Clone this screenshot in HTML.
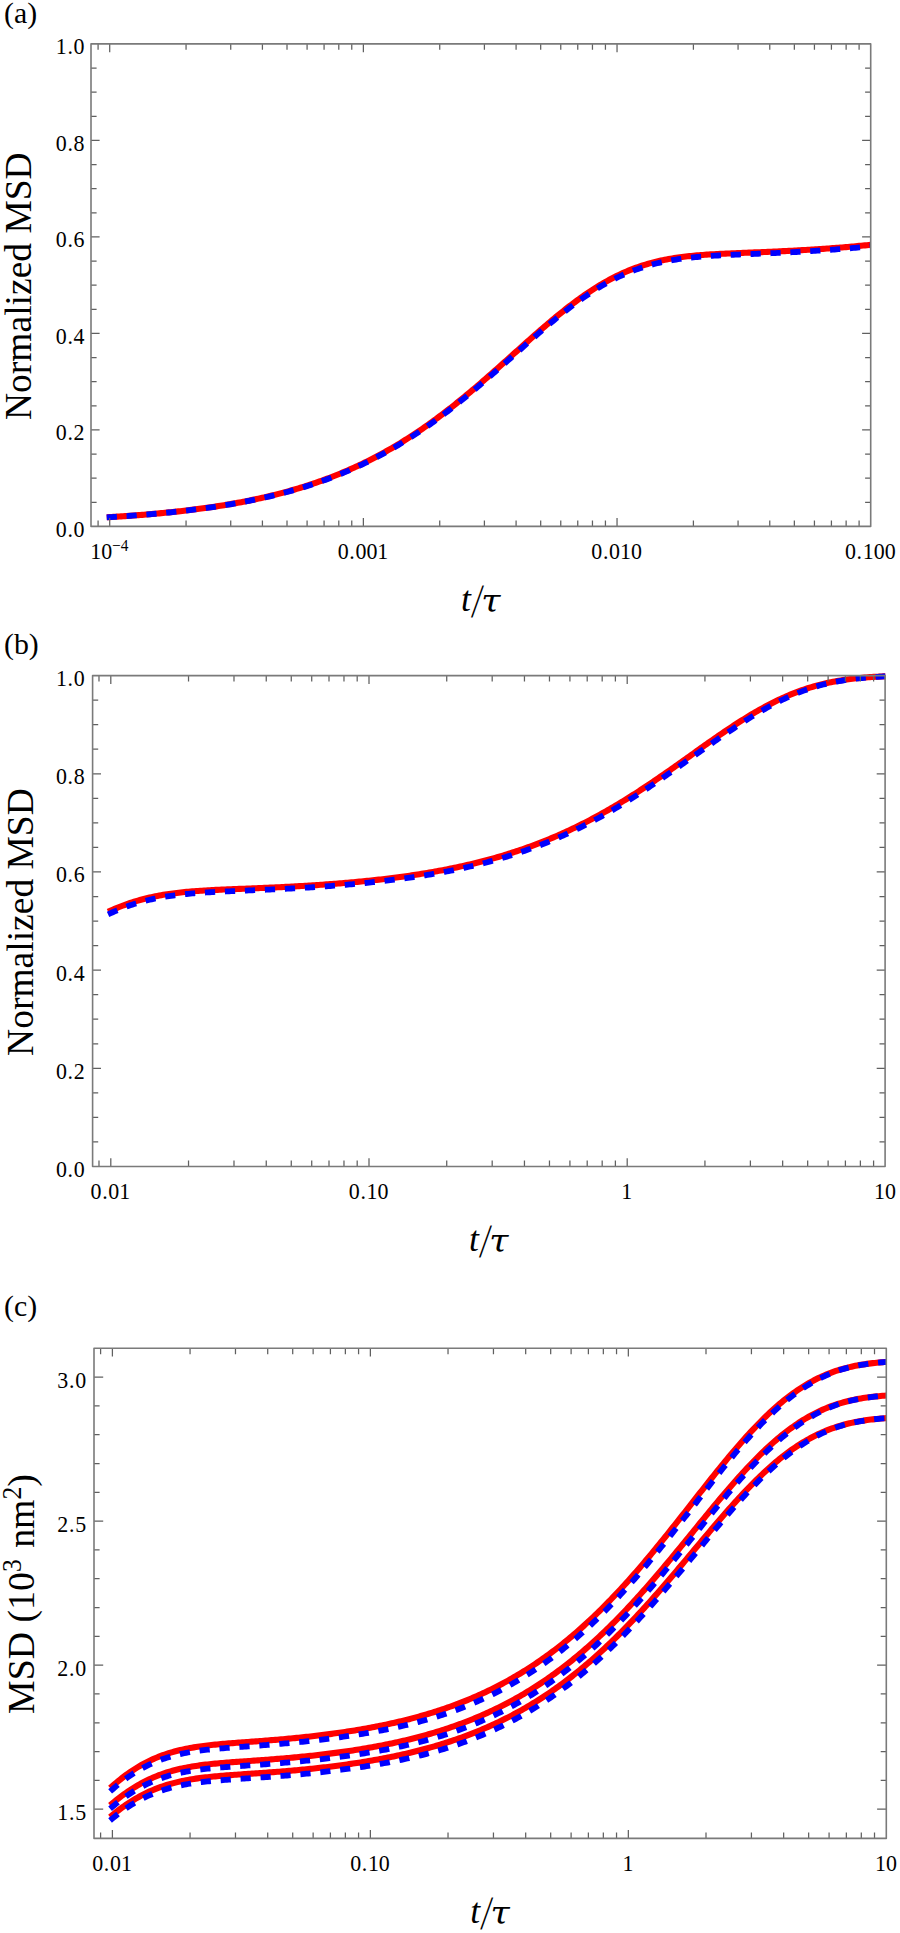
<!DOCTYPE html>
<html><head><meta charset="utf-8"><title>MSD figure</title>
<style>html,body{margin:0;padding:0;background:#fff}svg{display:block}text{font-family:"Liberation Serif",serif}</style>
</head><body>
<svg width="900" height="1933" viewBox="0 0 900 1933">
<rect width="900" height="1933" fill="#fff"/>
<clipPath id="ca"><rect x="86" y="35.9" width="785.4" height="498.5"/></clipPath>
<g fill="none" clip-path="url(#ca)">
<path d="M106.71,517.31 L109.7,517.12 L111.61,517.01 L113.51,516.89 L115.42,516.76 L117.33,516.64 L119.24,516.52 L121.14,516.39 L123.05,516.26 L124.96,516.13 L126.87,515.99 L128.77,515.86 L130.68,515.72 L132.59,515.58 L134.49,515.43 L136.4,515.29 L138.31,515.14 L140.22,514.99 L142.12,514.84 L144.03,514.68 L145.94,514.52 L147.85,514.36 L149.75,514.2 L151.66,514.03 L153.57,513.86 L155.48,513.69 L157.38,513.52 L159.29,513.34 L161.2,513.16 L163.1,512.97 L165.01,512.79 L166.92,512.59 L168.83,512.4 L170.73,512.2 L172.64,512.01 L174.55,511.8 L176.46,511.6 L178.36,511.39 L180.27,511.17 L182.18,510.95 L184.08,510.73 L185.99,510.51 L187.9,510.28 L189.81,510.05 L191.71,509.81 L193.62,509.57 L195.53,509.33 L197.44,509.08 L199.34,508.83 L201.25,508.58 L203.16,508.32 L205.06,508.05 L206.97,507.78 L208.88,507.51 L210.79,507.23 L212.69,506.95 L214.6,506.66 L216.51,506.37 L218.42,506.08 L220.32,505.78 L222.23,505.47 L224.14,505.16 L226.04,504.85 L227.95,504.52 L229.86,504.2 L231.77,503.87 L233.67,503.53 L235.58,503.19 L237.49,502.84 L239.4,502.49 L241.3,502.13 L243.21,501.77 L245.12,501.4 L247.03,501.02 L248.93,500.64 L250.84,500.25 L252.75,499.86 L254.65,499.46 L256.56,499.05 L258.47,498.64 L260.38,498.22 L262.28,497.79 L264.19,497.36 L266.1,496.92 L268.01,496.47 L269.91,496.02 L271.82,495.56 L273.73,495.09 L275.63,494.61 L277.54,494.13 L279.45,493.64 L281.36,493.15 L283.26,492.64 L285.17,492.13 L287.08,491.61 L288.99,491.08 L290.89,490.54 L292.8,490 L294.71,489.45 L296.61,488.89 L298.52,488.32 L300.43,487.74 L302.34,487.15 L304.24,486.56 L306.15,485.95 L308.06,485.34 L309.97,484.72 L311.87,484.09 L313.78,483.45 L315.69,482.8 L317.59,482.14 L319.5,481.47 L321.41,480.79 L323.32,480.1 L325.22,479.41 L327.13,478.7 L329.04,477.98 L330.95,477.25 L332.85,476.51 L334.76,475.77 L336.67,475.01 L338.58,474.24 L340.48,473.46 L342.39,472.66 L344.3,471.86 L346.2,471.05 L348.11,470.23 L350.02,469.39 L351.93,468.54 L353.83,467.69 L355.74,466.82 L357.65,465.94 L359.56,465.04 L361.46,464.14 L363.37,463.22 L365.28,462.3 L367.18,461.36 L369.09,460.4 L371,459.44 L372.91,458.46 L374.81,457.48 L376.72,456.48 L378.63,455.46 L380.54,454.44 L382.44,453.4 L384.35,452.35 L386.26,451.29 L388.16,450.21 L390.07,449.12 L391.98,448.02 L393.89,446.91 L395.79,445.78 L397.7,444.64 L399.61,443.49 L401.52,442.32 L403.42,441.14 L405.33,439.95 L407.24,438.75 L409.15,437.53 L411.05,436.3 L412.96,435.06 L414.87,433.8 L416.77,432.53 L418.68,431.25 L420.59,429.95 L422.5,428.65 L424.4,427.33 L426.31,425.99 L428.22,424.65 L430.13,423.29 L432.03,421.92 L433.94,420.53 L435.85,419.14 L437.75,417.73 L439.66,416.31 L441.57,414.88 L443.48,413.43 L445.38,411.98 L447.29,410.51 L449.2,409.03 L451.11,407.54 L453.01,406.04 L454.92,404.52 L456.83,403 L458.73,401.46 L460.64,399.92 L462.55,398.36 L464.46,396.8 L466.36,395.22 L468.27,393.64 L470.18,392.05 L472.09,390.44 L473.99,388.83 L475.9,387.21 L477.81,385.59 L479.71,383.95 L481.62,382.31 L483.53,380.66 L485.44,379 L487.34,377.34 L489.25,375.67 L491.16,373.99 L493.07,372.31 L494.97,370.62 L496.88,368.93 L498.79,367.24 L500.7,365.54 L502.6,363.84 L504.51,362.14 L506.42,360.43 L508.32,358.72 L510.23,357.01 L512.14,355.3 L514.05,353.59 L515.95,351.88 L517.86,350.17 L519.77,348.46 L521.68,346.75 L523.58,345.05 L525.49,343.35 L527.4,341.65 L529.3,339.95 L531.21,338.26 L533.12,336.58 L535.03,334.9 L536.93,333.22 L538.84,331.56 L540.75,329.9 L542.66,328.24 L544.56,326.6 L546.47,324.97 L548.38,323.34 L550.28,321.73 L552.19,320.13 L554.1,318.53 L556.01,316.95 L557.91,315.39 L559.82,313.83 L561.73,312.29 L563.64,310.77 L565.54,309.26 L567.45,307.76 L569.36,306.28 L571.26,304.82 L573.17,303.38 L575.08,301.95 L576.99,300.54 L578.89,299.15 L580.8,297.78 L582.71,296.42 L584.62,295.09 L586.52,293.78 L588.43,292.49 L590.34,291.22 L592.25,289.97 L594.15,288.74 L596.06,287.54 L597.97,286.36 L599.87,285.2 L601.78,284.06 L603.69,282.95 L605.6,281.86 L607.5,280.8 L609.41,279.76 L611.32,278.74 L613.23,277.75 L615.13,276.78 L617.04,275.84 L618.95,274.92 L620.85,274.02 L622.76,273.15 L624.67,272.3 L626.58,271.48 L628.48,270.68 L630.39,269.91 L632.3,269.16 L634.21,268.43 L636.11,267.73 L638.02,267.05 L639.93,266.39 L641.83,265.76 L643.74,265.15 L645.65,264.56 L647.56,263.99 L649.46,263.44 L651.37,262.92 L653.28,262.42 L655.19,261.93 L657.09,261.47 L659,261.02 L660.91,260.59 L662.82,260.19 L664.72,259.8 L666.63,259.42 L668.54,259.07 L670.44,258.73 L672.35,258.4 L674.26,258.1 L676.17,257.8 L678.07,257.52 L679.98,257.26 L681.89,257 L683.8,256.76 L685.7,256.53 L687.61,256.32 L689.52,256.11 L691.42,255.91 L693.33,255.73 L695.24,255.55 L697.15,255.38 L699.05,255.22 L700.96,255.07 L702.87,254.93 L704.78,254.79 L706.68,254.66 L708.59,254.53 L710.5,254.41 L712.4,254.3 L714.31,254.19 L716.22,254.08 L718.13,253.98 L720.03,253.88 L721.94,253.79 L723.85,253.7 L725.76,253.61 L727.66,253.52 L729.57,253.44 L731.48,253.35 L733.38,253.27 L735.29,253.19 L737.2,253.11 L739.11,253.04 L741.01,252.96 L742.92,252.88 L744.83,252.8 L746.74,252.73 L748.64,252.65 L750.55,252.58 L752.46,252.5 L754.37,252.42 L756.27,252.35 L758.18,252.27 L760.09,252.19 L761.99,252.11 L763.9,252.03 L765.81,251.95 L767.72,251.87 L769.62,251.78 L771.53,251.7 L773.44,251.61 L775.35,251.53 L777.25,251.44 L779.16,251.35 L781.07,251.26 L782.97,251.17 L784.88,251.08 L786.79,250.98 L788.7,250.88 L790.6,250.79 L792.51,250.69 L794.42,250.58 L796.33,250.48 L798.23,250.38 L800.14,250.27 L802.05,250.16 L803.95,250.05 L805.86,249.94 L807.77,249.83 L809.68,249.71 L811.58,249.59 L813.49,249.47 L815.4,249.35 L817.31,249.23 L819.21,249.1 L821.12,248.97 L823.03,248.84 L824.93,248.71 L826.84,248.58 L828.75,248.44 L830.66,248.3 L832.56,248.16 L834.47,248.02 L836.38,247.87 L838.29,247.72 L840.19,247.57 L842.1,247.42 L844.01,247.26 L845.92,247.1 L847.82,246.94 L849.73,246.78 L851.64,246.61 L853.54,246.44 L855.45,246.27 L857.36,246.09 L859.27,245.91 L861.17,245.73 L863.08,245.55 L864.99,245.36 L866.9,245.17 L868.8,244.98 L870.71,244.78" stroke="#ff0000" stroke-width="6.1"/>
<path d="M106.71,517.31 L109.7,517.14 L111.61,517.02 L113.51,516.9 L115.42,516.79 L117.33,516.66 L119.24,516.54 L121.14,516.42 L123.05,516.29 L124.96,516.16 L126.87,516.03 L128.77,515.9 L130.68,515.76 L132.59,515.62 L134.49,515.48 L136.4,515.34 L138.31,515.19 L140.22,515.04 L142.12,514.89 L144.03,514.74 L145.94,514.58 L147.85,514.43 L149.75,514.26 L151.66,514.1 L153.57,513.93 L155.48,513.76 L157.38,513.59 L159.29,513.42 L161.2,513.24 L163.1,513.06 L165.01,512.87 L166.92,512.68 L168.83,512.49 L170.73,512.3 L172.64,512.1 L174.55,511.9 L176.46,511.7 L178.36,511.49 L180.27,511.28 L182.18,511.06 L184.08,510.85 L185.99,510.62 L187.9,510.4 L189.81,510.17 L191.71,509.94 L193.62,509.7 L195.53,509.46 L197.44,509.21 L199.34,508.96 L201.25,508.71 L203.16,508.45 L205.06,508.19 L206.97,507.93 L208.88,507.66 L210.79,507.38 L212.69,507.1 L214.6,506.82 L216.51,506.53 L218.42,506.24 L220.32,505.94 L222.23,505.63 L224.14,505.33 L226.04,505.01 L227.95,504.7 L229.86,504.37 L231.77,504.04 L233.67,503.71 L235.58,503.37 L237.49,503.03 L239.4,502.67 L241.3,502.32 L243.21,501.96 L245.12,501.59 L247.03,501.22 L248.93,500.84 L250.84,500.45 L252.75,500.07 L254.65,499.67 L256.56,499.27 L258.47,498.87 L260.38,498.46 L262.28,498.04 L264.19,497.61 L266.1,497.18 L268.01,496.74 L269.91,496.3 L271.82,495.84 L273.73,495.38 L275.63,494.92 L277.54,494.44 L279.45,493.96 L281.36,493.47 L283.26,492.97 L285.17,492.47 L287.08,491.96 L288.99,491.44 L290.89,490.91 L292.8,490.37 L294.71,489.83 L296.61,489.27 L298.52,488.71 L300.43,488.14 L302.34,487.56 L304.24,486.97 L306.15,486.38 L308.06,485.77 L309.97,485.16 L311.87,484.53 L313.78,483.9 L315.69,483.26 L317.59,482.61 L319.5,481.95 L321.41,481.28 L323.32,480.6 L325.22,479.91 L327.13,479.21 L329.04,478.5 L330.95,477.78 L332.85,477.05 L334.76,476.3 L336.67,475.55 L338.58,474.79 L340.48,474.02 L342.39,473.23 L344.3,472.44 L346.2,471.63 L348.11,470.82 L350.02,469.99 L351.93,469.15 L353.83,468.3 L355.74,467.44 L357.65,466.57 L359.56,465.68 L361.46,464.79 L363.37,463.88 L365.28,462.96 L367.18,462.03 L369.09,461.08 L371,460.12 L372.91,459.16 L374.81,458.18 L376.72,457.18 L378.63,456.18 L380.54,455.16 L382.44,454.13 L384.35,453.09 L386.26,452.03 L388.16,450.96 L390.07,449.88 L391.98,448.79 L393.89,447.68 L395.79,446.56 L397.7,445.43 L399.61,444.29 L401.52,443.13 L403.42,441.96 L405.33,440.78 L407.24,439.59 L409.15,438.38 L411.05,437.17 L412.96,435.93 L414.87,434.69 L416.77,433.43 L418.68,432.16 L420.59,430.88 L422.5,429.58 L424.4,428.27 L426.31,426.95 L428.22,425.62 L430.13,424.27 L432.03,422.91 L433.94,421.54 L435.85,420.15 L437.75,418.75 L439.66,417.35 L441.57,415.92 L443.48,414.49 L445.38,413.05 L447.29,411.59 L449.2,410.12 L451.11,408.64 L453.01,407.15 L454.92,405.65 L456.83,404.14 L458.73,402.62 L460.64,401.08 L462.55,399.54 L464.46,397.99 L466.36,396.42 L468.27,394.85 L470.18,393.27 L472.09,391.68 L473.99,390.08 L475.9,388.47 L477.81,386.85 L479.71,385.23 L481.62,383.6 L483.53,381.96 L485.44,380.31 L487.34,378.66 L489.25,377 L491.16,375.34 L493.07,373.67 L494.97,371.99 L496.88,370.32 L498.79,368.63 L500.7,366.95 L502.6,365.25 L504.51,363.56 L506.42,361.86 L508.32,360.16 L510.23,358.46 L512.14,356.76 L514.05,355.06 L515.95,353.36 L517.86,351.66 L519.77,349.96 L521.68,348.26 L523.58,346.57 L525.49,344.87 L527.4,343.18 L529.3,341.5 L531.21,339.82 L533.12,338.14 L535.03,336.47 L536.93,334.81 L538.84,333.15 L540.75,331.5 L542.66,329.86 L544.56,328.22 L546.47,326.6 L548.38,324.98 L550.28,323.38 L552.19,321.79 L554.1,320.2 L556.01,318.63 L557.91,317.08 L559.82,315.53 L561.73,314 L563.64,312.48 L565.54,310.97 L567.45,309.48 L569.36,308.01 L571.26,306.55 L573.17,305.11 L575.08,303.69 L576.99,302.28 L578.89,300.9 L580.8,299.53 L582.71,298.18 L584.62,296.85 L586.52,295.55 L588.43,294.26 L590.34,293 L592.25,291.75 L594.15,290.53 L596.06,289.33 L597.97,288.15 L599.87,287 L601.78,285.87 L603.69,284.76 L605.6,283.68 L607.5,282.62 L609.41,281.58 L611.32,280.57 L613.23,279.58 L615.13,278.62 L617.04,277.68 L618.95,276.76 L620.85,275.87 L622.76,275.01 L624.67,274.17 L626.58,273.35 L628.48,272.55 L630.39,271.79 L632.3,271.04 L634.21,270.32 L636.11,269.62 L638.02,268.94 L639.93,268.29 L641.83,267.65 L643.74,267.03 L645.65,266.43 L647.56,265.85 L649.46,265.3 L651.37,264.76 L653.28,264.25 L655.19,263.75 L657.09,263.28 L659,262.83 L660.91,262.39 L662.82,261.97 L664.72,261.57 L666.63,261.19 L668.54,260.83 L670.44,260.48 L672.35,260.14 L674.26,259.82 L676.17,259.52 L678.07,259.23 L679.98,258.96 L681.89,258.69 L683.8,258.44 L685.7,258.2 L687.61,257.98 L689.52,257.76 L691.42,257.56 L693.33,257.36 L695.24,257.17 L697.15,257 L699.05,256.83 L700.96,256.67 L702.87,256.51 L704.78,256.36 L706.68,256.22 L708.59,256.09 L710.5,255.96 L712.4,255.84 L714.31,255.72 L716.22,255.6 L718.13,255.49 L720.03,255.38 L721.94,255.29 L723.85,255.2 L725.76,255.11 L727.66,255.02 L729.57,254.94 L731.48,254.85 L733.38,254.77 L735.29,254.69 L737.2,254.61 L739.11,254.54 L741.01,254.46 L742.92,254.38 L744.83,254.3 L746.74,254.23 L748.64,254.15 L750.55,254.08 L752.46,254 L754.37,253.92 L756.27,253.85 L758.18,253.77 L760.09,253.69 L761.99,253.61 L763.9,253.53 L765.81,253.45 L767.72,253.37 L769.62,253.28 L771.53,253.2 L773.44,253.11 L775.35,253.03 L777.25,252.94 L779.16,252.85 L781.07,252.76 L782.97,252.67 L784.88,252.58 L786.79,252.48 L788.7,252.38 L790.6,252.29 L792.51,252.19 L794.42,252.08 L796.33,251.98 L798.23,251.88 L800.14,251.77 L802.05,251.66 L803.95,251.55 L805.86,251.44 L807.77,251.33 L809.68,251.21 L811.58,251.09 L813.49,250.97 L815.4,250.85 L817.31,250.73 L819.21,250.6 L821.12,250.47 L823.03,250.34 L824.93,250.21 L826.84,250.08 L828.75,249.94 L830.66,249.8 L832.56,249.66 L834.47,249.52 L836.38,249.37 L838.29,249.22 L840.19,249.07 L842.1,248.92 L844.01,248.76 L845.92,248.6 L847.82,248.44 L849.73,248.28 L851.64,248.11 L853.54,247.94 L855.45,247.77 L857.36,247.59 L859.27,247.41 L861.17,247.23 L863.08,247.05 L864.99,246.86 L866.9,246.67 L868.8,246.48 L870.71,246.28" stroke="#0000ff" stroke-width="5.8" stroke-dasharray="10.2 9.7"/>
</g>
<path d="M98.09,526.4 v-5.9 M98.09,43.9 v5.9 M109.7,526.4 v-8.3 M109.7,43.9 v8.3 M186.06,526.4 v-5.9 M186.06,43.9 v5.9 M230.73,526.4 v-5.9 M230.73,43.9 v5.9 M262.42,526.4 v-5.9 M262.42,43.9 v5.9 M287.01,526.4 v-5.9 M287.01,43.9 v5.9 M307.09,526.4 v-5.9 M307.09,43.9 v5.9 M324.08,526.4 v-5.9 M324.08,43.9 v5.9 M338.79,526.4 v-5.9 M338.79,43.9 v5.9 M351.76,526.4 v-5.9 M351.76,43.9 v5.9 M363.37,526.4 v-8.3 M363.37,43.9 v8.3 M439.73,526.4 v-5.9 M439.73,43.9 v5.9 M484.4,526.4 v-5.9 M484.4,43.9 v5.9 M516.09,526.4 v-5.9 M516.09,43.9 v5.9 M540.68,526.4 v-5.9 M540.68,43.9 v5.9 M560.76,526.4 v-5.9 M560.76,43.9 v5.9 M577.75,526.4 v-5.9 M577.75,43.9 v5.9 M592.46,526.4 v-5.9 M592.46,43.9 v5.9 M605.43,526.4 v-5.9 M605.43,43.9 v5.9 M617.04,526.4 v-8.3 M617.04,43.9 v8.3 M693.4,526.4 v-5.9 M693.4,43.9 v5.9 M738.07,526.4 v-5.9 M738.07,43.9 v5.9 M769.76,526.4 v-5.9 M769.76,43.9 v5.9 M794.35,526.4 v-5.9 M794.35,43.9 v5.9 M814.43,526.4 v-5.9 M814.43,43.9 v5.9 M831.42,526.4 v-5.9 M831.42,43.9 v5.9 M846.13,526.4 v-5.9 M846.13,43.9 v5.9 M859.1,526.4 v-5.9 M859.1,43.9 v5.9 M91,429.9 h8.6 M870.7,429.9 h-8.6 M91,333.4 h8.6 M870.7,333.4 h-8.6 M91,236.9 h8.6 M870.7,236.9 h-8.6 M91,140.4 h8.6 M870.7,140.4 h-8.6 M91,502.27 h5.6 M870.7,502.27 h-5.6 M91,478.15 h5.6 M870.7,478.15 h-5.6 M91,454.02 h5.6 M870.7,454.02 h-5.6 M91,405.77 h5.6 M870.7,405.77 h-5.6 M91,381.65 h5.6 M870.7,381.65 h-5.6 M91,357.52 h5.6 M870.7,357.52 h-5.6 M91,309.27 h5.6 M870.7,309.27 h-5.6 M91,285.15 h5.6 M870.7,285.15 h-5.6 M91,261.02 h5.6 M870.7,261.02 h-5.6 M91,212.77 h5.6 M870.7,212.77 h-5.6 M91,188.65 h5.6 M870.7,188.65 h-5.6 M91,164.52 h5.6 M870.7,164.52 h-5.6 M91,116.27 h5.6 M870.7,116.27 h-5.6 M91,92.15 h5.6 M870.7,92.15 h-5.6 M91,68.02 h5.6 M870.7,68.02 h-5.6" stroke="#606060" stroke-width="1.25" fill="none"/>
<rect x="91" y="43.9" width="779.7" height="482.5" fill="none" stroke="#7a7a7a" stroke-width="1.6" stroke-linejoin="round"/>
<g font-size="23.6" fill="#000">
<text transform="translate(84.5,536.9) scale(0.93,1)" text-anchor="end">0<tspan dx="0.7">.</tspan><tspan dx="0.7">0</tspan></text>
<text transform="translate(84.5,440.4) scale(0.93,1)" text-anchor="end">0<tspan dx="0.7">.</tspan><tspan dx="0.7">2</tspan></text>
<text transform="translate(84.5,343.9) scale(0.93,1)" text-anchor="end">0<tspan dx="0.7">.</tspan><tspan dx="0.7">4</tspan></text>
<text transform="translate(84.5,247.4) scale(0.93,1)" text-anchor="end">0<tspan dx="0.7">.</tspan><tspan dx="0.7">6</tspan></text>
<text transform="translate(84.5,150.9) scale(0.93,1)" text-anchor="end">0<tspan dx="0.7">.</tspan><tspan dx="0.7">8</tspan></text>
<text transform="translate(84.5,54.4) scale(0.93,1)" text-anchor="end">1<tspan dx="0.7">.</tspan><tspan dx="0.7">0</tspan></text>
<text transform="translate(109.3,558.7) scale(0.93,1)" text-anchor="middle">10<tspan font-size="16.5" dy="-8">−4</tspan></text>
<text transform="translate(362.97,558.7) scale(0.93,1)" text-anchor="middle">0<tspan dx="0.7">.</tspan><tspan dx="0.7">001</tspan></text>
<text transform="translate(616.64,558.7) scale(0.93,1)" text-anchor="middle">0<tspan dx="0.7">.</tspan><tspan dx="0.7">010</tspan></text>
<text transform="translate(870.31,558.7) scale(0.93,1)" text-anchor="middle">0<tspan dx="0.7">.</tspan><tspan dx="0.7">100</tspan></text>
</g>
<text x="461" y="611.4" font-size="35.5" font-style="italic" fill="#000">t</text>
<text transform="translate(471,617.3) skewX(-7) scale(0.68,1)" font-size="48" fill="#000">/</text>
<text transform="translate(481.3,612.1) scale(1.07,1)" font-size="32.5" font-style="italic" style="font-family:'DejaVu Serif','Liberation Serif',serif" fill="#000">τ</text>
<text transform="translate(31.1,286.15) rotate(-90) scale(1.0,1)" font-size="37.5" text-anchor="middle" fill="#000">Normalized MSD</text>
<text x="4" y="22.6" font-size="29.8" fill="#000">(a)</text>
<clipPath id="cb"><rect x="87.6" y="667.6" width="798.2" height="506.9"/></clipPath>
<g fill="none" clip-path="url(#cb)">
<path d="M108.06,911.81 L110.8,910.59 L112.74,909.73 L114.68,908.89 L116.62,908.07 L118.57,907.28 L120.51,906.51 L122.45,905.76 L124.39,905.04 L126.33,904.33 L128.27,903.65 L130.21,902.99 L132.15,902.36 L134.1,901.74 L136.04,901.15 L137.98,900.57 L139.92,900.02 L141.86,899.49 L143.8,898.97 L145.74,898.48 L147.69,898.01 L149.63,897.55 L151.57,897.12 L153.51,896.7 L155.45,896.3 L157.39,895.91 L159.33,895.55 L161.28,895.19 L163.22,894.86 L165.16,894.54 L167.1,894.23 L169.04,893.94 L170.98,893.66 L172.92,893.4 L174.86,893.15 L176.81,892.91 L178.75,892.68 L180.69,892.46 L182.63,892.26 L184.57,892.06 L186.51,891.87 L188.45,891.7 L190.4,891.53 L192.34,891.37 L194.28,891.21 L196.22,891.07 L198.16,890.93 L200.1,890.8 L202.04,890.67 L203.98,890.55 L205.93,890.43 L207.87,890.32 L209.81,890.22 L211.75,890.11 L213.69,890.01 L215.63,889.92 L217.57,889.83 L219.52,889.73 L221.46,889.65 L223.4,889.56 L225.34,889.48 L227.28,889.4 L229.22,889.31 L231.16,889.24 L233.11,889.16 L235.05,889.08 L236.99,889 L238.93,888.92 L240.87,888.85 L242.81,888.77 L244.75,888.69 L246.69,888.62 L248.64,888.54 L250.58,888.46 L252.52,888.38 L254.46,888.31 L256.4,888.23 L258.34,888.15 L260.28,888.06 L262.23,887.98 L264.17,887.9 L266.11,887.81 L268.05,887.73 L269.99,887.64 L271.93,887.55 L273.87,887.46 L275.82,887.37 L277.76,887.28 L279.7,887.19 L281.64,887.09 L283.58,887 L285.52,886.9 L287.46,886.8 L289.4,886.7 L291.35,886.59 L293.29,886.49 L295.23,886.38 L297.17,886.27 L299.11,886.16 L301.05,886.05 L302.99,885.94 L304.94,885.82 L306.88,885.71 L308.82,885.59 L310.76,885.46 L312.7,885.34 L314.64,885.21 L316.58,885.09 L318.52,884.96 L320.47,884.82 L322.41,884.69 L324.35,884.55 L326.29,884.41 L328.23,884.27 L330.17,884.13 L332.11,883.98 L334.06,883.83 L336,883.68 L337.94,883.53 L339.88,883.37 L341.82,883.21 L343.76,883.05 L345.7,882.89 L347.65,882.72 L349.59,882.55 L351.53,882.38 L353.47,882.2 L355.41,882.02 L357.35,881.84 L359.29,881.66 L361.23,881.47 L363.18,881.28 L365.12,881.09 L367.06,880.89 L369,880.69 L370.94,880.49 L372.88,880.28 L374.82,880.07 L376.77,879.86 L378.71,879.64 L380.65,879.42 L382.59,879.19 L384.53,878.97 L386.47,878.73 L388.41,878.5 L390.35,878.26 L392.3,878.02 L394.24,877.77 L396.18,877.52 L398.12,877.26 L400.06,877.01 L402,876.74 L403.94,876.47 L405.89,876.2 L407.83,875.93 L409.77,875.65 L411.71,875.36 L413.65,875.07 L415.59,874.78 L417.53,874.48 L419.48,874.17 L421.42,873.86 L423.36,873.55 L425.3,873.23 L427.24,872.91 L429.18,872.58 L431.12,872.25 L433.06,871.91 L435.01,871.56 L436.95,871.21 L438.89,870.86 L440.83,870.5 L442.77,870.13 L444.71,869.76 L446.65,869.38 L448.6,869 L450.54,868.61 L452.48,868.21 L454.42,867.81 L456.36,867.4 L458.3,866.99 L460.24,866.57 L462.18,866.14 L464.13,865.71 L466.07,865.27 L468.01,864.82 L469.95,864.37 L471.89,863.91 L473.83,863.44 L475.77,862.96 L477.72,862.48 L479.66,862 L481.6,861.5 L483.54,861 L485.48,860.49 L487.42,859.97 L489.36,859.44 L491.31,858.91 L493.25,858.37 L495.19,857.82 L497.13,857.27 L499.07,856.7 L501.01,856.13 L502.95,855.55 L504.89,854.96 L506.84,854.37 L508.78,853.76 L510.72,853.15 L512.66,852.52 L514.6,851.89 L516.54,851.25 L518.48,850.61 L520.43,849.95 L522.37,849.28 L524.31,848.61 L526.25,847.92 L528.19,847.23 L530.13,846.53 L532.07,845.82 L534.02,845.09 L535.96,844.36 L537.9,843.62 L539.84,842.87 L541.78,842.11 L543.72,841.34 L545.66,840.57 L547.6,839.78 L549.55,838.98 L551.49,838.17 L553.43,837.35 L555.37,836.52 L557.31,835.68 L559.25,834.83 L561.19,833.97 L563.14,833.1 L565.08,832.22 L567.02,831.33 L568.96,830.43 L570.9,829.52 L572.84,828.6 L574.78,827.67 L576.72,826.73 L578.67,825.77 L580.61,824.81 L582.55,823.84 L584.49,822.85 L586.43,821.86 L588.37,820.85 L590.31,819.84 L592.26,818.81 L594.2,817.78 L596.14,816.73 L598.08,815.67 L600.02,814.6 L601.96,813.53 L603.9,812.44 L605.85,811.34 L607.79,810.23 L609.73,809.11 L611.67,807.98 L613.61,806.85 L615.55,805.7 L617.49,804.54 L619.43,803.37 L621.38,802.2 L623.32,801.01 L625.26,799.81 L627.2,798.61 L629.14,797.39 L631.08,796.17 L633.02,794.94 L634.97,793.7 L636.91,792.45 L638.85,791.19 L640.79,789.93 L642.73,788.65 L644.67,787.37 L646.61,786.09 L648.55,784.79 L650.5,783.49 L652.44,782.18 L654.38,780.86 L656.32,779.54 L658.26,778.21 L660.2,776.88 L662.14,775.54 L664.09,774.19 L666.03,772.84 L667.97,771.49 L669.91,770.13 L671.85,768.77 L673.79,767.4 L675.73,766.03 L677.68,764.66 L679.62,763.29 L681.56,761.91 L683.5,760.53 L685.44,759.15 L687.38,757.77 L689.32,756.39 L691.26,755 L693.21,753.62 L695.15,752.24 L697.09,750.86 L699.03,749.48 L700.97,748.1 L702.91,746.73 L704.85,745.35 L706.8,743.98 L708.74,742.62 L710.68,741.26 L712.62,739.9 L714.56,738.55 L716.5,737.2 L718.44,735.86 L720.38,734.53 L722.33,733.2 L724.27,731.88 L726.21,730.57 L728.15,729.27 L730.09,727.97 L732.03,726.69 L733.97,725.42 L735.92,724.15 L737.86,722.9 L739.8,721.66 L741.74,720.43 L743.68,719.21 L745.62,718 L747.56,716.81 L749.51,715.63 L751.45,714.47 L753.39,713.32 L755.33,712.18 L757.27,711.06 L759.21,709.96 L761.15,708.87 L763.09,707.8 L765.04,706.74 L766.98,705.7 L768.92,704.68 L770.86,703.68 L772.8,702.69 L774.74,701.73 L776.68,700.78 L778.63,699.85 L780.57,698.94 L782.51,698.05 L784.45,697.17 L786.39,696.32 L788.33,695.49 L790.27,694.68 L792.22,693.88 L794.16,693.11 L796.1,692.36 L798.04,691.62 L799.98,690.91 L801.92,690.22 L803.86,689.55 L805.8,688.89 L807.75,688.26 L809.69,687.65 L811.63,687.05 L813.57,686.48 L815.51,685.93 L817.45,685.39 L819.39,684.88 L821.34,684.38 L823.28,683.9 L825.22,683.44 L827.16,683 L829.1,682.57 L831.04,682.17 L832.98,681.78 L834.92,681.41 L836.87,681.05 L838.81,680.71 L840.75,680.39 L842.69,680.08 L844.63,679.79 L846.57,679.51 L848.51,679.24 L850.46,678.99 L852.4,678.75 L854.34,678.53 L856.28,678.32 L858.22,678.12 L860.16,677.93 L862.1,677.75 L864.05,677.58 L865.99,677.43 L867.93,677.28 L869.87,677.14 L871.81,677.02 L873.75,676.9 L875.69,676.79 L877.63,676.68 L879.58,676.59 L881.52,676.5 L883.46,676.42 L885.4,676.34" stroke="#ff0000" stroke-width="6.1"/>
<path d="M108.06,914.4 L110.8,913.15 L112.74,912.26 L114.68,911.39 L116.62,910.55 L118.57,909.73 L120.51,908.94 L122.45,908.16 L124.39,907.41 L126.33,906.68 L128.27,905.98 L130.21,905.29 L132.15,904.65 L134.1,904.03 L136.04,903.43 L137.98,902.85 L139.92,902.29 L141.86,901.75 L143.8,901.23 L145.74,900.73 L147.69,900.25 L149.63,899.79 L151.57,899.34 L153.51,898.92 L155.45,898.51 L157.39,898.12 L159.33,897.75 L161.28,897.39 L163.22,897.05 L165.16,896.72 L167.1,896.41 L169.04,896.11 L170.98,895.83 L172.92,895.56 L174.86,895.3 L176.81,895.05 L178.75,894.82 L180.69,894.59 L182.63,894.38 L184.57,894.18 L186.51,893.99 L188.45,893.8 L190.4,893.63 L192.34,893.46 L194.28,893.3 L196.22,893.15 L198.16,893 L200.1,892.86 L202.04,892.73 L203.98,892.6 L205.93,892.48 L207.87,892.36 L209.81,892.25 L211.75,892.14 L213.69,892.04 L215.63,891.93 L217.57,891.83 L219.52,891.74 L221.46,891.64 L223.4,891.55 L225.34,891.46 L227.28,891.37 L229.22,891.28 L231.16,891.2 L233.11,891.11 L235.05,891.03 L236.99,890.94 L238.93,890.86 L240.87,890.78 L242.81,890.69 L244.75,890.61 L246.69,890.53 L248.64,890.44 L250.58,890.36 L252.52,890.28 L254.46,890.21 L256.4,890.13 L258.34,890.05 L260.28,889.96 L262.23,889.88 L264.17,889.8 L266.11,889.71 L268.05,889.63 L269.99,889.54 L271.93,889.45 L273.87,889.36 L275.82,889.27 L277.76,889.18 L279.7,889.09 L281.64,888.99 L283.58,888.9 L285.52,888.8 L287.46,888.7 L289.4,888.6 L291.35,888.49 L293.29,888.39 L295.23,888.28 L297.17,888.17 L299.11,888.06 L301.05,887.95 L302.99,887.84 L304.94,887.72 L306.88,887.61 L308.82,887.49 L310.76,887.36 L312.7,887.24 L314.64,887.11 L316.58,886.99 L318.52,886.86 L320.47,886.72 L322.41,886.59 L324.35,886.45 L326.29,886.31 L328.23,886.17 L330.17,886.03 L332.11,885.88 L334.06,885.73 L336,885.58 L337.94,885.43 L339.88,885.27 L341.82,885.11 L343.76,884.95 L345.7,884.79 L347.65,884.62 L349.59,884.45 L351.53,884.28 L353.47,884.1 L355.41,883.92 L357.35,883.74 L359.29,883.56 L361.23,883.37 L363.18,883.18 L365.12,882.99 L367.06,882.79 L369,882.59 L370.94,882.39 L372.88,882.19 L374.82,881.99 L376.77,881.78 L378.71,881.57 L380.65,881.35 L382.59,881.13 L384.53,880.91 L386.47,880.68 L388.41,880.45 L390.35,880.22 L392.3,879.98 L394.24,879.74 L396.18,879.49 L398.12,879.25 L400.06,878.99 L402,878.73 L403.94,878.47 L405.89,878.2 L407.83,877.93 L409.77,877.66 L411.71,877.38 L413.65,877.09 L415.59,876.8 L417.53,876.51 L419.48,876.21 L421.42,875.91 L423.36,875.6 L425.3,875.29 L427.24,874.97 L429.18,874.64 L431.12,874.31 L433.06,873.98 L435.01,873.64 L436.95,873.3 L438.89,872.95 L440.83,872.59 L442.77,872.23 L444.71,871.86 L446.65,871.49 L448.6,871.11 L450.54,870.73 L452.48,870.34 L454.42,869.94 L456.36,869.54 L458.3,869.13 L460.24,868.71 L462.18,868.29 L464.13,867.86 L466.07,867.43 L468.01,866.99 L469.95,866.54 L471.89,866.08 L473.83,865.62 L475.77,865.15 L477.72,864.68 L479.66,864.19 L481.6,863.71 L483.54,863.21 L485.48,862.7 L487.42,862.19 L489.36,861.67 L491.31,861.15 L493.25,860.61 L495.19,860.07 L497.13,859.52 L499.07,858.96 L501.01,858.4 L502.95,857.82 L504.89,857.24 L506.84,856.65 L508.78,856.05 L510.72,855.44 L512.66,854.83 L514.6,854.2 L516.54,853.57 L518.48,852.93 L520.43,852.28 L522.37,851.62 L524.31,850.95 L526.25,850.27 L528.19,849.58 L530.13,848.89 L532.07,848.18 L534.02,847.47 L535.96,846.74 L537.9,846.01 L539.84,845.26 L541.78,844.51 L543.72,843.75 L545.66,842.97 L547.6,842.19 L549.55,841.4 L551.49,840.59 L553.43,839.78 L555.37,838.96 L557.31,838.13 L559.25,837.28 L561.19,836.43 L563.14,835.57 L565.08,834.69 L567.02,833.81 L568.96,832.91 L570.9,832.01 L572.84,831.09 L574.78,830.17 L576.72,829.23 L578.67,828.28 L580.61,827.33 L582.55,826.36 L584.49,825.38 L586.43,824.39 L588.37,823.39 L590.31,822.38 L592.26,821.36 L594.2,820.33 L596.14,819.28 L598.08,818.23 L600.02,817.17 L601.96,816.1 L603.9,815.01 L605.85,813.92 L607.79,812.82 L609.73,811.7 L611.67,810.58 L613.61,809.45 L615.55,808.3 L617.49,807.15 L619.43,805.99 L621.38,804.81 L623.32,803.63 L625.26,802.44 L627.2,801.24 L629.14,800.03 L631.08,798.82 L633.02,797.59 L634.97,796.35 L636.91,795.11 L638.85,793.86 L640.79,792.6 L642.73,791.33 L644.67,790.05 L646.61,788.77 L648.55,787.48 L650.5,786.18 L652.44,784.88 L654.38,783.57 L656.32,782.25 L658.26,780.93 L660.2,779.6 L662.14,778.26 L664.09,776.92 L666.03,775.58 L667.97,774.23 L669.91,772.88 L671.85,771.52 L673.79,770.16 L675.73,768.79 L677.68,767.43 L679.62,766.06 L681.56,764.68 L683.5,763.31 L685.44,761.94 L687.38,760.56 L689.32,759.18 L691.26,757.8 L693.21,756.43 L695.15,755.05 L697.09,753.67 L699.03,752.3 L700.97,750.93 L702.91,749.56 L704.85,748.19 L706.8,746.82 L708.74,745.46 L710.68,744.11 L712.62,742.76 L714.56,741.41 L716.5,740.07 L718.44,738.73 L720.38,737.4 L722.33,736.08 L724.27,734.77 L726.21,733.46 L728.15,732.16 L730.09,730.87 L732.03,729.55 L733.97,728.23 L735.92,726.92 L737.86,725.63 L739.8,724.34 L741.74,723.07 L743.68,721.81 L745.62,720.56 L747.56,719.32 L749.51,718.1 L751.45,716.9 L753.39,715.7 L755.33,714.52 L757.27,713.36 L759.21,712.21 L761.15,711.08 L763.09,709.97 L765.04,708.87 L766.98,707.79 L768.92,706.73 L770.86,705.68 L772.8,704.65 L774.74,703.64 L776.68,702.65 L778.63,701.68 L780.57,700.72 L782.51,699.77 L784.45,698.85 L786.39,697.94 L788.33,697.05 L790.27,696.18 L792.22,695.33 L794.16,694.5 L796.1,693.69 L798.04,692.9 L799.98,692.13 L801.92,691.38 L803.86,690.65 L805.8,689.95 L807.75,689.26 L809.69,688.59 L811.63,687.94 L813.57,687.31 L815.51,686.7 L817.45,686.11 L819.39,685.56 L821.34,685.04 L823.28,684.55 L825.22,684.07 L827.16,683.6 L829.1,683.16 L831.04,682.73 L832.98,682.32 L834.92,681.93 L836.87,681.56 L838.81,681.2 L840.75,680.85 L842.69,680.52 L844.63,680.21 L846.57,679.91 L848.51,679.63 L850.46,679.36 L852.4,679.1 L854.34,678.85 L856.28,678.62 L858.22,678.4 L860.16,678.19 L862.1,678 L864.05,677.81 L865.99,677.63 L867.93,677.47 L869.87,677.31 L871.81,677.16 L873.75,677.02 L875.69,676.89 L877.63,676.77 L879.58,676.65 L881.52,676.55 L883.46,676.44 L885.4,676.35" stroke="#0000ff" stroke-width="5.8" stroke-dasharray="10.2 9.8"/>
</g>
<path d="M98.99,1166.5 v-5.9 M98.99,675.6 v5.9 M110.8,1166.5 v-8.3 M110.8,675.6 v8.3 M188.53,1166.5 v-5.9 M188.53,675.6 v5.9 M233.99,1166.5 v-5.9 M233.99,675.6 v5.9 M266.25,1166.5 v-5.9 M266.25,675.6 v5.9 M291.27,1166.5 v-5.9 M291.27,675.6 v5.9 M311.72,1166.5 v-5.9 M311.72,675.6 v5.9 M329,1166.5 v-5.9 M329,675.6 v5.9 M343.98,1166.5 v-5.9 M343.98,675.6 v5.9 M357.19,1166.5 v-5.9 M357.19,675.6 v5.9 M369,1166.5 v-8.3 M369,675.6 v8.3 M446.73,1166.5 v-5.9 M446.73,675.6 v5.9 M492.19,1166.5 v-5.9 M492.19,675.6 v5.9 M524.45,1166.5 v-5.9 M524.45,675.6 v5.9 M549.47,1166.5 v-5.9 M549.47,675.6 v5.9 M569.92,1166.5 v-5.9 M569.92,675.6 v5.9 M587.2,1166.5 v-5.9 M587.2,675.6 v5.9 M602.18,1166.5 v-5.9 M602.18,675.6 v5.9 M615.39,1166.5 v-5.9 M615.39,675.6 v5.9 M627.2,1166.5 v-8.3 M627.2,675.6 v8.3 M704.93,1166.5 v-5.9 M704.93,675.6 v5.9 M750.39,1166.5 v-5.9 M750.39,675.6 v5.9 M782.65,1166.5 v-5.9 M782.65,675.6 v5.9 M807.67,1166.5 v-5.9 M807.67,675.6 v5.9 M828.12,1166.5 v-5.9 M828.12,675.6 v5.9 M845.4,1166.5 v-5.9 M845.4,675.6 v5.9 M860.38,1166.5 v-5.9 M860.38,675.6 v5.9 M873.59,1166.5 v-5.9 M873.59,675.6 v5.9 M92.6,1068.32 h8.4 M885.1,1068.32 h-8.4 M92.6,970.14 h8.4 M885.1,970.14 h-8.4 M92.6,871.96 h8.4 M885.1,871.96 h-8.4 M92.6,773.78 h8.4 M885.1,773.78 h-8.4 M92.6,1141.95 h5.6 M885.1,1141.95 h-5.6 M92.6,1117.41 h5.6 M885.1,1117.41 h-5.6 M92.6,1092.87 h5.6 M885.1,1092.87 h-5.6 M92.6,1043.78 h5.6 M885.1,1043.78 h-5.6 M92.6,1019.23 h5.6 M885.1,1019.23 h-5.6 M92.6,994.68 h5.6 M885.1,994.68 h-5.6 M92.6,945.6 h5.6 M885.1,945.6 h-5.6 M92.6,921.05 h5.6 M885.1,921.05 h-5.6 M92.6,896.5 h5.6 M885.1,896.5 h-5.6 M92.6,847.41 h5.6 M885.1,847.41 h-5.6 M92.6,822.87 h5.6 M885.1,822.87 h-5.6 M92.6,798.33 h5.6 M885.1,798.33 h-5.6 M92.6,749.23 h5.6 M885.1,749.23 h-5.6 M92.6,724.69 h5.6 M885.1,724.69 h-5.6 M92.6,700.14 h5.6 M885.1,700.14 h-5.6" stroke="#606060" stroke-width="1.25" fill="none"/>
<rect x="92.6" y="675.6" width="792.5" height="490.9" fill="none" stroke="#7a7a7a" stroke-width="1.6" stroke-linejoin="round"/>
<g font-size="23.6" fill="#000">
<text transform="translate(84.7,1177) scale(0.93,1)" text-anchor="end">0<tspan dx="0.7">.</tspan><tspan dx="0.7">0</tspan></text>
<text transform="translate(84.7,1078.82) scale(0.93,1)" text-anchor="end">0<tspan dx="0.7">.</tspan><tspan dx="0.7">2</tspan></text>
<text transform="translate(84.7,980.64) scale(0.93,1)" text-anchor="end">0<tspan dx="0.7">.</tspan><tspan dx="0.7">4</tspan></text>
<text transform="translate(84.7,882.46) scale(0.93,1)" text-anchor="end">0<tspan dx="0.7">.</tspan><tspan dx="0.7">6</tspan></text>
<text transform="translate(84.7,784.28) scale(0.93,1)" text-anchor="end">0<tspan dx="0.7">.</tspan><tspan dx="0.7">8</tspan></text>
<text transform="translate(84.7,686.1) scale(0.93,1)" text-anchor="end">1<tspan dx="0.7">.</tspan><tspan dx="0.7">0</tspan></text>
<text transform="translate(110.4,1198.8) scale(0.93,1)" text-anchor="middle">0<tspan dx="0.7">.</tspan><tspan dx="0.7">01</tspan></text>
<text transform="translate(368.6,1198.8) scale(0.93,1)" text-anchor="middle">0<tspan dx="0.7">.</tspan><tspan dx="0.7">10</tspan></text>
<text transform="translate(626.8,1198.8) scale(0.93,1)" text-anchor="middle">1</text>
<text transform="translate(885,1198.8) scale(0.93,1)" text-anchor="middle">10</text>
</g>
<text x="469" y="1251" font-size="35.5" font-style="italic" fill="#000">t</text>
<text transform="translate(479,1256.9) skewX(-7) scale(0.68,1)" font-size="48" fill="#000">/</text>
<text transform="translate(489.3,1251.7) scale(1.07,1)" font-size="32.5" font-style="italic" style="font-family:'DejaVu Serif','Liberation Serif',serif" fill="#000">τ</text>
<text transform="translate(32.9,922.05) rotate(-90) scale(1.0,1)" font-size="37.5" text-anchor="middle" fill="#000">Normalized MSD</text>
<text x="4" y="653.8" font-size="29.8" fill="#000">(b)</text>
<clipPath id="cc"><rect x="89" y="1340.3" width="798" height="506.1"/></clipPath>
<g fill="none" clip-path="url(#cc)">
<path d="M110.14,1788.04 L112.4,1786.06 L114.34,1784.36 L116.28,1782.7 L118.22,1781.09 L120.16,1779.52 L122.1,1777.99 L124.04,1776.51 L125.98,1775.06 L127.92,1773.66 L129.86,1772.3 L131.8,1770.99 L133.74,1769.71 L135.68,1768.48 L137.62,1767.28 L139.55,1766.13 L141.49,1765.02 L143.43,1763.95 L145.37,1762.91 L147.31,1761.92 L149.25,1760.96 L151.19,1760.03 L153.13,1759.15 L155.07,1758.3 L157.01,1757.48 L158.95,1756.7 L160.89,1755.95 L162.83,1755.23 L164.77,1754.55 L166.71,1753.89 L168.65,1753.27 L170.59,1752.67 L172.53,1752.1 L174.47,1751.55 L176.41,1751.04 L178.35,1750.54 L180.29,1750.07 L182.23,1749.63 L184.17,1749.2 L186.11,1748.8 L188.05,1748.41 L189.98,1748.05 L191.92,1747.7 L193.86,1747.37 L195.8,1747.06 L197.74,1746.76 L199.68,1746.47 L201.62,1746.2 L203.56,1745.94 L205.5,1745.7 L207.44,1745.46 L209.38,1745.24 L211.32,1745.02 L213.26,1744.81 L215.2,1744.62 L217.14,1744.43 L219.08,1744.24 L221.02,1744.06 L222.96,1743.89 L224.9,1743.72 L226.84,1743.56 L228.78,1743.4 L230.72,1743.25 L232.66,1743.09 L234.6,1742.94 L236.54,1742.8 L238.48,1742.65 L240.42,1742.51 L242.35,1742.36 L244.29,1742.22 L246.23,1742.08 L248.17,1741.94 L250.11,1741.79 L252.05,1741.65 L253.99,1741.51 L255.93,1741.36 L257.87,1741.22 L259.81,1741.07 L261.75,1740.93 L263.69,1740.78 L265.63,1740.63 L267.57,1740.47 L269.51,1740.32 L271.45,1740.16 L273.39,1740.01 L275.33,1739.84 L277.27,1739.68 L279.21,1739.52 L281.15,1739.35 L283.09,1739.18 L285.03,1739 L286.97,1738.83 L288.91,1738.65 L290.85,1738.47 L292.79,1738.28 L294.72,1738.09 L296.66,1737.9 L298.6,1737.71 L300.54,1737.51 L302.48,1737.31 L304.42,1737.11 L306.36,1736.9 L308.3,1736.69 L310.24,1736.47 L312.18,1736.26 L314.12,1736.03 L316.06,1735.81 L318,1735.58 L319.94,1735.35 L321.88,1735.11 L323.82,1734.87 L325.76,1734.62 L327.7,1734.37 L329.64,1734.12 L331.58,1733.86 L333.52,1733.6 L335.46,1733.33 L337.4,1733.06 L339.34,1732.79 L341.28,1732.51 L343.22,1732.22 L345.15,1731.93 L347.09,1731.64 L349.03,1731.34 L350.97,1731.04 L352.91,1730.73 L354.85,1730.41 L356.79,1730.09 L358.73,1729.77 L360.67,1729.44 L362.61,1729.1 L364.55,1728.76 L366.49,1728.41 L368.43,1728.06 L370.37,1727.7 L372.31,1727.34 L374.25,1726.97 L376.19,1726.59 L378.13,1726.21 L380.07,1725.82 L382.01,1725.43 L383.95,1725.02 L385.89,1724.62 L387.83,1724.2 L389.77,1723.78 L391.71,1723.35 L393.65,1722.92 L395.59,1722.47 L397.52,1722.02 L399.46,1721.57 L401.4,1721.1 L403.34,1720.63 L405.28,1720.15 L407.22,1719.66 L409.16,1719.17 L411.1,1718.67 L413.04,1718.16 L414.98,1717.64 L416.92,1717.11 L418.86,1716.57 L420.8,1716.03 L422.74,1715.48 L424.68,1714.91 L426.62,1714.34 L428.56,1713.76 L430.5,1713.17 L432.44,1712.58 L434.38,1711.97 L436.32,1711.35 L438.26,1710.73 L440.2,1710.09 L442.14,1709.44 L444.08,1708.79 L446.02,1708.12 L447.95,1707.44 L449.89,1706.75 L451.83,1706.06 L453.77,1705.35 L455.71,1704.63 L457.65,1703.9 L459.59,1703.15 L461.53,1702.4 L463.47,1701.64 L465.41,1700.86 L467.35,1700.07 L469.29,1699.27 L471.23,1698.46 L473.17,1697.64 L475.11,1696.8 L477.05,1695.95 L478.99,1695.09 L480.93,1694.21 L482.87,1693.33 L484.81,1692.43 L486.75,1691.51 L488.69,1690.59 L490.63,1689.65 L492.57,1688.69 L494.51,1687.72 L496.45,1686.74 L498.39,1685.75 L500.32,1684.74 L502.26,1683.71 L504.2,1682.67 L506.14,1681.62 L508.08,1680.55 L510.02,1679.46 L511.96,1678.37 L513.9,1677.25 L515.84,1676.12 L517.78,1674.98 L519.72,1673.81 L521.66,1672.64 L523.6,1671.44 L525.54,1670.23 L527.48,1669.01 L529.42,1667.77 L531.36,1666.51 L533.3,1665.23 L535.24,1663.94 L537.18,1662.63 L539.12,1661.31 L541.06,1659.96 L543,1658.6 L544.94,1657.22 L546.88,1655.83 L548.82,1654.42 L550.76,1652.99 L552.69,1651.54 L554.63,1650.07 L556.57,1648.59 L558.51,1647.08 L560.45,1645.56 L562.39,1644.02 L564.33,1642.47 L566.27,1640.89 L568.21,1639.3 L570.15,1637.68 L572.09,1636.05 L574.03,1634.4 L575.97,1632.73 L577.91,1631.04 L579.85,1629.34 L581.79,1627.61 L583.73,1625.87 L585.67,1624.11 L587.61,1622.33 L589.55,1620.53 L591.49,1618.71 L593.43,1616.87 L595.37,1615.01 L597.31,1613.14 L599.25,1611.24 L601.19,1609.33 L603.12,1607.4 L605.06,1605.45 L607,1603.49 L608.94,1601.5 L610.88,1599.5 L612.82,1597.48 L614.76,1595.44 L616.7,1593.38 L618.64,1591.31 L620.58,1589.22 L622.52,1587.11 L624.46,1584.99 L626.4,1582.85 L628.34,1580.69 L630.28,1578.51 L632.22,1576.32 L634.16,1574.12 L636.1,1571.9 L638.04,1569.66 L639.98,1567.41 L641.92,1565.14 L643.86,1562.87 L645.8,1560.57 L647.74,1558.27 L649.68,1555.95 L651.62,1553.61 L653.56,1551.27 L655.49,1548.91 L657.43,1546.55 L659.37,1544.17 L661.31,1541.78 L663.25,1539.38 L665.19,1536.98 L667.13,1534.56 L669.07,1532.14 L671.01,1529.7 L672.95,1527.26 L674.89,1524.82 L676.83,1522.37 L678.77,1519.91 L680.71,1517.45 L682.65,1514.98 L684.59,1512.52 L686.53,1510.04 L688.47,1507.57 L690.41,1505.1 L692.35,1502.62 L694.29,1500.15 L696.23,1497.67 L698.17,1495.2 L700.11,1492.73 L702.05,1490.27 L703.99,1487.81 L705.92,1485.35 L707.86,1482.9 L709.8,1480.46 L711.74,1478.02 L713.68,1475.59 L715.62,1473.17 L717.56,1470.76 L719.5,1468.36 L721.44,1465.98 L723.38,1463.6 L725.32,1461.24 L727.26,1458.9 L729.2,1456.56 L731.14,1454.25 L733.08,1451.95 L735.02,1449.67 L736.96,1447.41 L738.9,1445.17 L740.84,1442.94 L742.78,1440.74 L744.72,1438.56 L746.66,1436.41 L748.6,1434.28 L750.54,1432.17 L752.48,1430.08 L754.42,1428.03 L756.36,1426 L758.29,1423.99 L760.23,1422.02 L762.17,1420.07 L764.11,1418.15 L766.05,1416.26 L767.99,1414.41 L769.93,1412.58 L771.87,1410.79 L773.81,1409.03 L775.75,1407.3 L777.69,1405.6 L779.63,1403.94 L781.57,1402.31 L783.51,1400.72 L785.45,1399.16 L787.39,1397.63 L789.33,1396.14 L791.27,1394.69 L793.21,1393.27 L795.15,1391.89 L797.09,1390.54 L799.03,1389.23 L800.97,1387.96 L802.91,1386.72 L804.85,1385.52 L806.79,1384.35 L808.73,1383.22 L810.66,1382.13 L812.6,1381.07 L814.54,1380.04 L816.48,1379.05 L818.42,1378.1 L820.36,1377.17 L822.3,1376.29 L824.24,1375.43 L826.18,1374.61 L828.12,1373.82 L830.06,1373.06 L832,1372.34 L833.94,1371.64 L835.88,1370.98 L837.82,1370.34 L839.76,1369.74 L841.7,1369.16 L843.64,1368.61 L845.58,1368.08 L847.52,1367.58 L849.46,1367.11 L851.4,1366.66 L853.34,1366.24 L855.28,1365.84 L857.22,1365.46 L859.16,1365.1 L861.09,1364.77 L863.03,1364.45 L864.97,1364.15 L866.91,1363.88 L868.85,1363.61 L870.79,1363.37 L872.73,1363.14 L874.67,1362.93 L876.61,1362.73 L878.55,1362.55 L880.49,1362.38 L882.43,1362.22 L884.37,1362.07 L886.31,1361.94" stroke="#ff0000" stroke-width="6.1"/>
<path d="M110.14,1791.41 L112.4,1789.44 L114.34,1787.76 L116.28,1786.12 L118.22,1784.52 L120.16,1782.97 L122.1,1781.46 L124.04,1779.99 L125.98,1778.57 L127.92,1777.18 L129.86,1775.84 L131.8,1774.55 L133.74,1773.29 L135.68,1772.07 L137.62,1770.9 L139.55,1769.77 L141.49,1768.67 L143.43,1767.62 L145.37,1766.6 L147.31,1765.62 L149.25,1764.68 L151.19,1763.78 L153.13,1762.91 L155.07,1762.08 L157.01,1761.28 L158.95,1760.52 L160.89,1759.79 L162.83,1759.09 L164.77,1758.42 L166.71,1757.78 L168.65,1757.18 L170.59,1756.6 L172.53,1756.05 L174.47,1755.52 L176.41,1755.02 L178.35,1754.55 L180.29,1754.09 L182.23,1753.67 L184.17,1753.26 L186.11,1752.87 L188.05,1752.51 L189.98,1752.16 L191.92,1751.83 L193.86,1751.52 L195.8,1751.23 L197.74,1750.94 L199.68,1750.68 L201.62,1750.43 L203.56,1750.19 L205.5,1749.96 L207.44,1749.74 L209.38,1749.54 L211.32,1749.34 L213.26,1749.15 L215.2,1748.97 L217.14,1748.8 L219.08,1748.63 L221.02,1748.46 L222.96,1748.29 L224.9,1748.13 L226.84,1747.97 L228.78,1747.81 L230.72,1747.66 L232.66,1747.5 L234.6,1747.36 L236.54,1747.21 L238.48,1747.07 L240.42,1746.92 L242.35,1746.78 L244.29,1746.64 L246.23,1746.5 L248.17,1746.36 L250.11,1746.22 L252.05,1746.08 L253.99,1745.94 L255.93,1745.79 L257.87,1745.65 L259.81,1745.51 L261.75,1745.36 L263.69,1745.21 L265.63,1745.06 L267.57,1744.91 L269.51,1744.76 L271.45,1744.61 L273.39,1744.45 L275.33,1744.29 L277.27,1744.13 L279.21,1743.97 L281.15,1743.8 L283.09,1743.63 L285.03,1743.46 L286.97,1743.28 L288.91,1743.11 L290.85,1742.93 L292.79,1742.74 L294.72,1742.56 L296.66,1742.37 L298.6,1742.17 L300.54,1741.98 L302.48,1741.78 L304.42,1741.58 L306.36,1741.37 L308.3,1741.16 L310.24,1740.95 L312.18,1740.73 L314.12,1740.51 L316.06,1740.29 L318,1740.06 L319.94,1739.83 L321.88,1739.59 L323.82,1739.35 L325.76,1739.11 L327.7,1738.86 L329.64,1738.61 L331.58,1738.36 L333.52,1738.09 L335.46,1737.83 L337.4,1737.56 L339.34,1737.29 L341.28,1737.02 L343.22,1736.75 L345.15,1736.48 L347.09,1736.21 L349.03,1735.93 L350.97,1735.64 L352.91,1735.35 L354.85,1735.05 L356.79,1734.75 L358.73,1734.45 L360.67,1734.14 L362.61,1733.82 L364.55,1733.5 L366.49,1733.17 L368.43,1732.83 L370.37,1732.49 L372.31,1732.15 L374.25,1731.8 L376.19,1731.44 L378.13,1731.07 L380.07,1730.7 L382.01,1730.33 L383.95,1729.94 L385.89,1729.56 L387.83,1729.16 L389.77,1728.76 L391.71,1728.35 L393.65,1727.93 L395.59,1727.51 L397.52,1727.07 L399.46,1726.64 L401.4,1726.19 L403.34,1725.74 L405.28,1725.28 L407.22,1724.81 L409.16,1724.33 L411.1,1723.85 L413.04,1723.35 L414.98,1722.85 L416.92,1722.34 L418.86,1721.83 L420.8,1721.3 L422.74,1720.77 L424.68,1720.22 L426.62,1719.67 L428.56,1719.11 L430.5,1718.54 L432.44,1717.96 L434.38,1717.37 L436.32,1716.77 L438.26,1716.17 L440.2,1715.55 L442.14,1714.92 L444.08,1714.28 L446.02,1713.63 L447.95,1712.97 L449.89,1712.31 L451.83,1711.63 L453.77,1710.94 L455.71,1710.23 L457.65,1709.5 L459.59,1708.75 L461.53,1708 L463.47,1707.24 L465.41,1706.46 L467.35,1705.67 L469.29,1704.87 L471.23,1704.06 L473.17,1703.24 L475.11,1702.4 L477.05,1701.55 L478.99,1700.69 L480.93,1699.81 L482.87,1698.93 L484.81,1698.03 L486.75,1697.11 L488.69,1696.19 L490.63,1695.25 L492.57,1694.29 L494.51,1693.32 L496.45,1692.34 L498.39,1691.35 L500.32,1690.34 L502.26,1689.31 L504.2,1688.27 L506.14,1687.22 L508.08,1686.15 L510.02,1685.06 L511.96,1683.97 L513.9,1682.85 L515.84,1681.72 L517.78,1680.58 L519.72,1679.41 L521.66,1678.24 L523.6,1677.04 L525.54,1675.83 L527.48,1674.61 L529.42,1673.37 L531.36,1672.11 L533.3,1670.83 L535.24,1669.54 L537.18,1668.23 L539.12,1666.91 L541.06,1665.56 L543,1664.2 L544.94,1662.82 L546.88,1661.43 L548.82,1660.02 L550.76,1658.59 L552.69,1657.14 L554.63,1655.67 L556.57,1654.19 L558.51,1652.68 L560.45,1651.16 L562.39,1649.62 L564.33,1648.07 L566.27,1646.49 L568.21,1644.9 L570.15,1643.28 L572.09,1641.65 L574.03,1640 L575.97,1638.33 L577.91,1636.64 L579.85,1634.94 L581.79,1633.21 L583.73,1631.47 L585.67,1629.71 L587.61,1627.93 L589.55,1626.13 L591.49,1624.3 L593.43,1622.45 L595.37,1620.58 L597.31,1618.7 L599.25,1616.79 L601.19,1614.87 L603.12,1612.93 L605.06,1610.97 L607,1608.99 L608.94,1606.99 L610.88,1604.98 L612.82,1602.95 L614.76,1600.9 L616.7,1598.83 L618.64,1596.75 L620.58,1594.64 L622.52,1592.53 L624.46,1590.39 L626.4,1588.24 L628.34,1586.07 L630.28,1583.88 L632.22,1581.68 L634.16,1579.47 L636.1,1577.23 L638.04,1574.99 L639.98,1572.72 L641.92,1570.45 L643.86,1568.16 L645.8,1565.85 L647.74,1563.54 L649.68,1561.21 L651.62,1558.86 L653.56,1556.51 L655.49,1554.14 L657.43,1551.76 L659.37,1549.37 L661.31,1546.97 L663.25,1544.56 L665.19,1542.15 L667.13,1539.72 L669.07,1537.28 L671.01,1534.84 L672.95,1532.39 L674.89,1529.93 L676.83,1527.47 L678.77,1525 L680.71,1522.53 L682.65,1520.05 L684.59,1517.57 L686.53,1515.09 L688.47,1512.61 L690.41,1510.12 L692.35,1507.64 L694.29,1505.15 L696.23,1502.64 L698.17,1500.11 L700.11,1497.59 L702.05,1495.06 L703.99,1492.55 L705.92,1490.03 L707.86,1487.52 L709.8,1485.02 L711.74,1482.53 L713.68,1480.05 L715.62,1477.57 L717.56,1475.11 L719.5,1472.65 L721.44,1470.21 L723.38,1467.78 L725.32,1465.36 L727.26,1462.96 L729.2,1460.57 L731.14,1458.2 L733.08,1455.84 L735.02,1453.51 L736.96,1451.19 L738.9,1448.89 L740.84,1446.61 L742.78,1444.35 L744.72,1442.12 L746.66,1439.9 L748.6,1437.71 L750.54,1435.55 L752.48,1433.41 L754.42,1431.3 L756.36,1429.21 L758.29,1427.15 L760.23,1425.12 L762.17,1423.11 L764.11,1421.14 L766.05,1419.2 L767.99,1417.28 L769.93,1415.4 L771.87,1413.55 L773.81,1411.73 L775.75,1409.93 L777.69,1408.17 L779.63,1406.43 L781.57,1404.74 L783.51,1403.07 L785.45,1401.44 L787.39,1399.85 L789.33,1398.29 L791.27,1396.76 L793.21,1395.27 L795.15,1393.82 L797.09,1392.4 L799.03,1391.02 L800.97,1389.68 L802.91,1388.37 L804.85,1387.1 L806.79,1385.86 L808.73,1384.66 L810.66,1383.49 L812.6,1382.36 L814.54,1381.27 L816.48,1380.21 L818.42,1379.18 L820.36,1378.19 L822.3,1377.23 L824.24,1376.3 L826.18,1375.41 L828.12,1374.55 L830.06,1373.73 L832,1372.93 L833.94,1372.16 L835.88,1371.43 L837.82,1370.72 L839.76,1370.04 L841.7,1369.45 L843.64,1368.88 L845.58,1368.35 L847.52,1367.84 L849.46,1367.35 L851.4,1366.89 L853.34,1366.45 L855.28,1366.04 L857.22,1365.65 L859.16,1365.28 L861.09,1364.93 L863.03,1364.6 L864.97,1364.29 L866.91,1364 L868.85,1363.73 L870.79,1363.47 L872.73,1363.23 L874.67,1363 L876.61,1362.79 L878.55,1362.6 L880.49,1362.41 L882.43,1362.24 L884.37,1362.08 L886.31,1361.94" stroke="#0000ff" stroke-width="5.8" stroke-dasharray="10.2 9.8"/>
<path d="M110.11,1805.37 L112.4,1803.44 L114.34,1801.8 L116.28,1800.21 L118.22,1798.66 L120.16,1797.15 L122.1,1795.68 L124.04,1794.25 L125.98,1792.86 L127.92,1791.51 L129.86,1790.21 L131.8,1788.94 L133.74,1787.72 L135.68,1786.53 L137.62,1785.38 L139.55,1784.27 L141.49,1783.2 L143.43,1782.17 L145.37,1781.18 L147.31,1780.22 L149.25,1779.3 L151.19,1778.41 L153.13,1777.56 L155.07,1776.74 L157.01,1775.96 L158.95,1775.21 L160.89,1774.49 L162.83,1773.8 L164.77,1773.14 L166.71,1772.51 L168.65,1771.91 L170.59,1771.33 L172.53,1770.79 L174.47,1770.26 L176.41,1769.77 L178.35,1769.29 L180.29,1768.84 L182.23,1768.41 L184.17,1768.01 L186.11,1767.62 L188.05,1767.25 L189.98,1766.9 L191.92,1766.57 L193.86,1766.25 L195.8,1765.95 L197.74,1765.66 L199.68,1765.39 L201.62,1765.13 L203.56,1764.88 L205.5,1764.65 L207.44,1764.42 L209.38,1764.21 L211.32,1764 L213.26,1763.8 L215.2,1763.61 L217.14,1763.43 L219.08,1763.25 L221.02,1763.08 L222.96,1762.92 L224.9,1762.76 L226.84,1762.6 L228.78,1762.45 L230.72,1762.3 L232.66,1762.16 L234.6,1762.02 L236.54,1761.88 L238.48,1761.74 L240.42,1761.6 L242.35,1761.46 L244.29,1761.33 L246.23,1761.19 L248.17,1761.06 L250.11,1760.92 L252.05,1760.79 L253.99,1760.65 L255.93,1760.51 L257.87,1760.38 L259.81,1760.24 L261.75,1760.1 L263.69,1759.96 L265.63,1759.81 L267.57,1759.67 L269.51,1759.52 L271.45,1759.37 L273.39,1759.22 L275.33,1759.07 L277.27,1758.91 L279.21,1758.76 L281.15,1758.6 L283.09,1758.44 L285.03,1758.27 L286.97,1758.1 L288.91,1757.93 L290.85,1757.76 L292.79,1757.59 L294.72,1757.41 L296.66,1757.23 L298.6,1757.04 L300.54,1756.85 L302.48,1756.66 L304.42,1756.47 L306.36,1756.27 L308.3,1756.07 L310.24,1755.87 L312.18,1755.66 L314.12,1755.45 L316.06,1755.24 L318,1755.02 L319.94,1754.8 L321.88,1754.57 L323.82,1754.34 L325.76,1754.11 L327.7,1753.87 L329.64,1753.63 L331.58,1753.39 L333.52,1753.14 L335.46,1752.88 L337.4,1752.63 L339.34,1752.37 L341.28,1752.1 L343.22,1751.83 L345.15,1751.55 L347.09,1751.28 L349.03,1750.99 L350.97,1750.7 L352.91,1750.41 L354.85,1750.11 L356.79,1749.81 L358.73,1749.5 L360.67,1749.18 L362.61,1748.87 L364.55,1748.54 L366.49,1748.21 L368.43,1747.88 L370.37,1747.54 L372.31,1747.19 L374.25,1746.84 L376.19,1746.48 L378.13,1746.12 L380.07,1745.75 L382.01,1745.37 L383.95,1744.99 L385.89,1744.6 L387.83,1744.21 L389.77,1743.81 L391.71,1743.4 L393.65,1742.99 L395.59,1742.57 L397.52,1742.14 L399.46,1741.71 L401.4,1741.26 L403.34,1740.82 L405.28,1740.36 L407.22,1739.9 L409.16,1739.43 L411.1,1738.95 L413.04,1738.46 L414.98,1737.97 L416.92,1737.47 L418.86,1736.96 L420.8,1736.44 L422.74,1735.92 L424.68,1735.38 L426.62,1734.84 L428.56,1734.29 L430.5,1733.73 L432.44,1733.16 L434.38,1732.58 L436.32,1732 L438.26,1731.4 L440.2,1730.8 L442.14,1730.18 L444.08,1729.56 L446.02,1728.92 L447.95,1728.28 L449.89,1727.63 L451.83,1726.96 L453.77,1726.29 L455.71,1725.6 L457.65,1724.91 L459.59,1724.2 L461.53,1723.49 L463.47,1722.76 L465.41,1722.02 L467.35,1721.27 L469.29,1720.51 L471.23,1719.74 L473.17,1718.95 L475.11,1718.16 L477.05,1717.35 L478.99,1716.53 L480.93,1715.7 L482.87,1714.86 L484.81,1714 L486.75,1713.13 L488.69,1712.25 L490.63,1711.35 L492.57,1710.45 L494.51,1709.52 L496.45,1708.59 L498.39,1707.64 L500.32,1706.68 L502.26,1705.71 L504.2,1704.72 L506.14,1703.71 L508.08,1702.7 L510.02,1701.66 L511.96,1700.62 L513.9,1699.56 L515.84,1698.48 L517.78,1697.39 L519.72,1696.28 L521.66,1695.16 L523.6,1694.03 L525.54,1692.88 L527.48,1691.71 L529.42,1690.53 L531.36,1689.33 L533.3,1688.11 L535.24,1686.88 L537.18,1685.64 L539.12,1684.37 L541.06,1683.09 L543,1681.8 L544.94,1680.49 L546.88,1679.16 L548.82,1677.81 L550.76,1676.45 L552.69,1675.07 L554.63,1673.67 L556.57,1672.25 L558.51,1670.82 L560.45,1669.37 L562.39,1667.9 L564.33,1666.42 L566.27,1664.92 L568.21,1663.4 L570.15,1661.86 L572.09,1660.3 L574.03,1658.73 L575.97,1657.14 L577.91,1655.53 L579.85,1653.9 L581.79,1652.25 L583.73,1650.59 L585.67,1648.91 L587.61,1647.21 L589.55,1645.49 L591.49,1643.76 L593.43,1642 L595.37,1640.23 L597.31,1638.44 L599.25,1636.63 L601.19,1634.81 L603.12,1632.96 L605.06,1631.1 L607,1629.22 L608.94,1627.33 L610.88,1625.41 L612.82,1623.48 L614.76,1621.54 L616.7,1619.57 L618.64,1617.59 L620.58,1615.59 L622.52,1613.57 L624.46,1611.54 L626.4,1609.5 L628.34,1607.43 L630.28,1605.35 L632.22,1603.26 L634.16,1601.15 L636.1,1599.02 L638.04,1596.88 L639.98,1594.73 L641.92,1592.56 L643.86,1590.38 L645.8,1588.18 L647.74,1585.97 L649.68,1583.75 L651.62,1581.52 L653.56,1579.27 L655.49,1577.01 L657.43,1574.74 L659.37,1572.46 L661.31,1570.17 L663.25,1567.88 L665.19,1565.57 L667.13,1563.25 L669.07,1560.92 L671.01,1558.59 L672.95,1556.25 L674.89,1553.9 L676.83,1551.55 L678.77,1549.19 L680.71,1546.82 L682.65,1544.45 L684.59,1542.08 L686.53,1539.71 L688.47,1537.33 L690.41,1534.95 L692.35,1532.57 L694.29,1530.19 L696.23,1527.81 L698.17,1525.43 L700.11,1523.05 L702.05,1520.68 L703.99,1518.31 L705.92,1515.94 L707.86,1513.58 L709.8,1511.23 L711.74,1508.88 L713.68,1506.53 L715.62,1504.2 L717.56,1501.88 L719.5,1499.56 L721.44,1497.26 L723.38,1494.96 L725.32,1492.68 L727.26,1490.42 L729.2,1488.16 L731.14,1485.92 L733.08,1483.7 L735.02,1481.49 L736.96,1479.3 L738.9,1477.13 L740.84,1474.98 L742.78,1472.85 L744.72,1470.74 L746.66,1468.65 L748.6,1466.58 L750.54,1464.53 L752.48,1462.51 L754.42,1460.51 L756.36,1458.54 L758.29,1456.59 L760.23,1454.67 L762.17,1452.78 L764.11,1450.91 L766.05,1449.07 L767.99,1447.27 L769.93,1445.49 L771.87,1443.74 L773.81,1442.02 L775.75,1440.33 L777.69,1438.68 L779.63,1437.05 L781.57,1435.46 L783.51,1433.9 L785.45,1432.38 L787.39,1430.89 L789.33,1429.43 L791.27,1428.01 L793.21,1426.62 L795.15,1425.26 L797.09,1423.94 L799.03,1422.65 L800.97,1421.4 L802.91,1420.18 L804.85,1419 L806.79,1417.85 L808.73,1416.74 L810.66,1415.66 L812.6,1414.61 L814.54,1413.6 L816.48,1412.63 L818.42,1411.68 L820.36,1410.77 L822.3,1409.89 L824.24,1409.05 L826.18,1408.23 L828.12,1407.45 L830.06,1406.7 L832,1405.98 L833.94,1405.29 L835.88,1404.62 L837.82,1403.99 L839.76,1403.39 L841.7,1402.81 L843.64,1402.26 L845.58,1401.74 L847.52,1401.24 L849.46,1400.77 L851.4,1400.32 L853.34,1399.89 L855.28,1399.49 L857.22,1399.11 L859.16,1398.75 L861.09,1398.41 L863.03,1398.09 L864.97,1397.79 L866.91,1397.51 L868.85,1397.25 L870.79,1397 L872.73,1396.77 L874.67,1396.56 L876.61,1396.35 L878.55,1396.17 L880.49,1395.99 L882.43,1395.83 L884.37,1395.68 L886.31,1395.54" stroke="#ff0000" stroke-width="6.1"/>
<path d="M110.11,1808.74 L112.4,1806.82 L114.34,1805.2 L116.28,1803.62 L118.22,1802.09 L120.16,1800.59 L122.1,1799.14 L124.04,1797.73 L125.98,1796.36 L127.92,1795.04 L129.86,1793.75 L131.8,1792.5 L133.74,1791.29 L135.68,1790.13 L137.62,1789 L139.55,1787.91 L141.49,1786.86 L143.43,1785.84 L145.37,1784.87 L147.31,1783.93 L149.25,1783.03 L151.19,1782.16 L153.13,1781.32 L155.07,1780.53 L157.01,1779.76 L158.95,1779.03 L160.89,1778.32 L162.83,1777.65 L164.77,1777.01 L166.71,1776.4 L168.65,1775.82 L170.59,1775.26 L172.53,1774.73 L174.47,1774.23 L176.41,1773.75 L178.35,1773.3 L180.29,1772.86 L182.23,1772.45 L184.17,1772.06 L186.11,1771.69 L188.05,1771.34 L189.98,1771.01 L191.92,1770.7 L193.86,1770.4 L195.8,1770.12 L197.74,1769.85 L199.68,1769.59 L201.62,1769.35 L203.56,1769.12 L205.5,1768.91 L207.44,1768.7 L209.38,1768.5 L211.32,1768.32 L213.26,1768.14 L215.2,1767.97 L217.14,1767.8 L219.08,1767.64 L221.02,1767.48 L222.96,1767.32 L224.9,1767.16 L226.84,1767.01 L228.78,1766.86 L230.72,1766.71 L232.66,1766.57 L234.6,1766.43 L236.54,1766.29 L238.48,1766.15 L240.42,1766.02 L242.35,1765.88 L244.29,1765.75 L246.23,1765.61 L248.17,1765.48 L250.11,1765.35 L252.05,1765.21 L253.99,1765.08 L255.93,1764.94 L257.87,1764.81 L259.81,1764.67 L261.75,1764.53 L263.69,1764.39 L265.63,1764.25 L267.57,1764.11 L269.51,1763.96 L271.45,1763.82 L273.39,1763.67 L275.33,1763.52 L277.27,1763.36 L279.21,1763.21 L281.15,1763.05 L283.09,1762.89 L285.03,1762.73 L286.97,1762.56 L288.91,1762.39 L290.85,1762.22 L292.79,1762.05 L294.72,1761.87 L296.66,1761.69 L298.6,1761.51 L300.54,1761.32 L302.48,1761.13 L304.42,1760.94 L306.36,1760.74 L308.3,1760.55 L310.24,1760.34 L312.18,1760.14 L314.12,1759.93 L316.06,1759.72 L318,1759.5 L319.94,1759.28 L321.88,1759.06 L323.82,1758.83 L325.76,1758.6 L327.7,1758.36 L329.64,1758.12 L331.58,1757.88 L333.52,1757.63 L335.46,1757.38 L337.4,1757.13 L339.34,1756.87 L341.28,1756.61 L343.22,1756.36 L345.15,1756.1 L347.09,1755.84 L349.03,1755.58 L350.97,1755.31 L352.91,1755.03 L354.85,1754.75 L356.79,1754.47 L358.73,1754.18 L360.67,1753.88 L362.61,1753.58 L364.55,1753.28 L366.49,1752.96 L368.43,1752.65 L370.37,1752.33 L372.31,1752 L374.25,1751.67 L376.19,1751.33 L378.13,1750.98 L380.07,1750.63 L382.01,1750.27 L383.95,1749.91 L385.89,1749.54 L387.83,1749.17 L389.77,1748.78 L391.71,1748.4 L393.65,1748 L395.59,1747.6 L397.52,1747.19 L399.46,1746.77 L401.4,1746.35 L403.34,1745.92 L405.28,1745.48 L407.22,1745.04 L409.16,1744.59 L411.1,1744.13 L413.04,1743.66 L414.98,1743.19 L416.92,1742.7 L418.86,1742.21 L420.8,1741.71 L422.74,1741.21 L424.68,1740.69 L426.62,1740.17 L428.56,1739.64 L430.5,1739.09 L432.44,1738.54 L434.38,1737.99 L436.32,1737.42 L438.26,1736.84 L440.2,1736.25 L442.14,1735.66 L444.08,1735.05 L446.02,1734.44 L447.95,1733.81 L449.89,1733.18 L451.83,1732.53 L453.77,1731.88 L455.71,1731.2 L457.65,1730.51 L459.59,1729.8 L461.53,1729.09 L463.47,1728.36 L465.41,1727.62 L467.35,1726.87 L469.29,1726.11 L471.23,1725.34 L473.17,1724.55 L475.11,1723.76 L477.05,1722.95 L478.99,1722.13 L480.93,1721.3 L482.87,1720.46 L484.81,1719.6 L486.75,1718.73 L488.69,1717.85 L490.63,1716.95 L492.57,1716.05 L494.51,1715.12 L496.45,1714.19 L498.39,1713.24 L500.32,1712.28 L502.26,1711.31 L504.2,1710.32 L506.14,1709.31 L508.08,1708.3 L510.02,1707.26 L511.96,1706.22 L513.9,1705.16 L515.84,1704.08 L517.78,1702.99 L519.72,1701.88 L521.66,1700.76 L523.6,1699.63 L525.54,1698.48 L527.48,1697.31 L529.42,1696.13 L531.36,1694.93 L533.3,1693.71 L535.24,1692.48 L537.18,1691.24 L539.12,1689.97 L541.06,1688.69 L543,1687.4 L544.94,1686.09 L546.88,1684.76 L548.82,1683.41 L550.76,1682.05 L552.69,1680.67 L554.63,1679.27 L556.57,1677.85 L558.51,1676.42 L560.45,1674.97 L562.39,1673.5 L564.33,1672.02 L566.27,1670.52 L568.21,1669 L570.15,1667.46 L572.09,1665.9 L574.03,1664.33 L575.97,1662.74 L577.91,1661.13 L579.85,1659.5 L581.79,1657.85 L583.73,1656.19 L585.67,1654.51 L587.61,1652.81 L589.55,1651.09 L591.49,1649.35 L593.43,1647.58 L595.37,1645.8 L597.31,1644 L599.25,1642.18 L601.19,1640.34 L603.12,1638.49 L605.06,1636.62 L607,1634.73 L608.94,1632.82 L610.88,1630.9 L612.82,1628.95 L614.76,1626.99 L616.7,1625.02 L618.64,1623.02 L620.58,1621.02 L622.52,1618.99 L624.46,1616.95 L626.4,1614.89 L628.34,1612.81 L630.28,1610.72 L632.22,1608.62 L634.16,1606.49 L636.1,1604.36 L638.04,1602.21 L639.98,1600.04 L641.92,1597.86 L643.86,1595.67 L645.8,1593.46 L647.74,1591.24 L649.68,1589.01 L651.62,1586.76 L653.56,1584.51 L655.49,1582.24 L657.43,1579.96 L659.37,1577.67 L661.31,1575.37 L663.25,1573.06 L665.19,1570.74 L667.13,1568.41 L669.07,1566.07 L671.01,1563.73 L672.95,1561.37 L674.89,1559.01 L676.83,1556.65 L678.77,1554.28 L680.71,1551.9 L682.65,1549.52 L684.59,1547.14 L686.53,1544.76 L688.47,1542.37 L690.41,1539.98 L692.35,1537.59 L694.29,1535.19 L696.23,1532.77 L698.17,1530.34 L700.11,1527.91 L702.05,1525.47 L703.99,1523.05 L705.92,1520.62 L707.86,1518.21 L709.8,1515.79 L711.74,1513.39 L713.68,1510.99 L715.62,1508.6 L717.56,1506.22 L719.5,1503.85 L721.44,1501.49 L723.38,1499.14 L725.32,1496.8 L727.26,1494.48 L729.2,1492.17 L731.14,1489.87 L733.08,1487.59 L735.02,1485.33 L736.96,1483.08 L738.9,1480.86 L740.84,1478.65 L742.78,1476.46 L744.72,1474.29 L746.66,1472.14 L748.6,1470.02 L750.54,1467.91 L752.48,1465.84 L754.42,1463.78 L756.36,1461.75 L758.29,1459.75 L760.23,1457.77 L762.17,1455.82 L764.11,1453.9 L766.05,1452.01 L767.99,1450.14 L769.93,1448.3 L771.87,1446.5 L773.81,1444.73 L775.75,1442.97 L777.69,1441.24 L779.63,1439.55 L781.57,1437.89 L783.51,1436.26 L785.45,1434.66 L787.39,1433.1 L789.33,1431.57 L791.27,1430.08 L793.21,1428.62 L795.15,1427.19 L797.09,1425.8 L799.03,1424.44 L800.97,1423.12 L802.91,1421.83 L804.85,1420.58 L806.79,1419.36 L808.73,1418.18 L810.66,1417.03 L812.6,1415.91 L814.54,1414.83 L816.48,1413.78 L818.42,1412.77 L820.36,1411.78 L822.3,1410.84 L824.24,1409.92 L826.18,1409.03 L828.12,1408.18 L830.06,1407.36 L832,1406.57 L833.94,1405.81 L835.88,1405.07 L837.82,1404.37 L839.76,1403.7 L841.7,1403.1 L843.64,1402.54 L845.58,1402 L847.52,1401.49 L849.46,1401 L851.4,1400.54 L853.34,1400.11 L855.28,1399.69 L857.22,1399.3 L859.16,1398.93 L861.09,1398.57 L863.03,1398.24 L864.97,1397.93 L866.91,1397.64 L868.85,1397.36 L870.79,1397.1 L872.73,1396.86 L874.67,1396.63 L876.61,1396.42 L878.55,1396.22 L880.49,1396.03 L882.43,1395.86 L884.37,1395.69 L886.31,1395.54" stroke="#0000ff" stroke-width="5.8" stroke-dasharray="10.2 9.8"/>
<path d="M110.08,1817.02 L112.4,1815.12 L114.34,1813.53 L116.28,1811.98 L118.22,1810.47 L120.16,1809 L122.1,1807.57 L124.04,1806.18 L125.98,1804.83 L127.92,1803.52 L129.86,1802.25 L131.8,1801.01 L133.74,1799.82 L135.68,1798.67 L137.62,1797.55 L139.55,1796.47 L141.49,1795.43 L143.43,1794.43 L145.37,1793.46 L147.31,1792.53 L149.25,1791.63 L151.19,1790.77 L153.13,1789.94 L155.07,1789.14 L157.01,1788.38 L158.95,1787.65 L160.89,1786.95 L162.83,1786.28 L164.77,1785.64 L166.71,1785.02 L168.65,1784.44 L170.59,1783.88 L172.53,1783.35 L174.47,1782.84 L176.41,1782.36 L178.35,1781.9 L180.29,1781.46 L182.23,1781.04 L184.17,1780.64 L186.11,1780.27 L188.05,1779.91 L189.98,1779.57 L191.92,1779.24 L193.86,1778.93 L195.8,1778.64 L197.74,1778.36 L199.68,1778.1 L201.62,1777.85 L203.56,1777.61 L205.5,1777.38 L207.44,1777.16 L209.38,1776.95 L211.32,1776.75 L213.26,1776.56 L215.2,1776.37 L217.14,1776.2 L219.08,1776.02 L221.02,1775.86 L222.96,1775.7 L224.9,1775.54 L226.84,1775.39 L228.78,1775.25 L230.72,1775.1 L232.66,1774.96 L234.6,1774.82 L236.54,1774.69 L238.48,1774.55 L240.42,1774.42 L242.35,1774.29 L244.29,1774.16 L246.23,1774.02 L248.17,1773.89 L250.11,1773.76 L252.05,1773.63 L253.99,1773.5 L255.93,1773.37 L257.87,1773.23 L259.81,1773.1 L261.75,1772.96 L263.69,1772.83 L265.63,1772.69 L267.57,1772.55 L269.51,1772.41 L271.45,1772.26 L273.39,1772.12 L275.33,1771.97 L277.27,1771.82 L279.21,1771.67 L281.15,1771.51 L283.09,1771.36 L285.03,1771.2 L286.97,1771.03 L288.91,1770.87 L290.85,1770.7 L292.79,1770.53 L294.72,1770.36 L296.66,1770.18 L298.6,1770 L300.54,1769.82 L302.48,1769.64 L304.42,1769.45 L306.36,1769.26 L308.3,1769.07 L310.24,1768.87 L312.18,1768.67 L314.12,1768.46 L316.06,1768.26 L318,1768.04 L319.94,1767.83 L321.88,1767.61 L323.82,1767.39 L325.76,1767.16 L327.7,1766.94 L329.64,1766.7 L331.58,1766.47 L333.52,1766.22 L335.46,1765.98 L337.4,1765.73 L339.34,1765.48 L341.28,1765.22 L343.22,1764.96 L345.15,1764.69 L347.09,1764.42 L349.03,1764.14 L350.97,1763.86 L352.91,1763.58 L354.85,1763.29 L356.79,1763 L358.73,1762.7 L360.67,1762.39 L362.61,1762.09 L364.55,1761.77 L366.49,1761.45 L368.43,1761.13 L370.37,1760.8 L372.31,1760.46 L374.25,1760.12 L376.19,1759.78 L378.13,1759.42 L380.07,1759.07 L382.01,1758.7 L383.95,1758.33 L385.89,1757.96 L387.83,1757.57 L389.77,1757.19 L391.71,1756.79 L393.65,1756.39 L395.59,1755.98 L397.52,1755.57 L399.46,1755.15 L401.4,1754.72 L403.34,1754.29 L405.28,1753.85 L407.22,1753.4 L409.16,1752.94 L411.1,1752.48 L413.04,1752.01 L414.98,1751.53 L416.92,1751.04 L418.86,1750.55 L420.8,1750.05 L422.74,1749.54 L424.68,1749.02 L426.62,1748.5 L428.56,1747.96 L430.5,1747.42 L432.44,1746.87 L434.38,1746.31 L436.32,1745.74 L438.26,1745.17 L440.2,1744.58 L442.14,1743.98 L444.08,1743.38 L446.02,1742.76 L447.95,1742.14 L449.89,1741.51 L451.83,1740.86 L453.77,1740.21 L455.71,1739.55 L457.65,1738.87 L459.59,1738.19 L461.53,1737.5 L463.47,1736.79 L465.41,1736.08 L467.35,1735.35 L469.29,1734.61 L471.23,1733.86 L473.17,1733.11 L475.11,1732.33 L477.05,1731.55 L478.99,1730.76 L480.93,1729.95 L482.87,1729.13 L484.81,1728.3 L486.75,1727.46 L488.69,1726.61 L490.63,1725.74 L492.57,1724.86 L494.51,1723.97 L496.45,1723.06 L498.39,1722.14 L500.32,1721.21 L502.26,1720.26 L504.2,1719.31 L506.14,1718.33 L508.08,1717.35 L510.02,1716.35 L511.96,1715.33 L513.9,1714.3 L515.84,1713.26 L517.78,1712.2 L519.72,1711.13 L521.66,1710.05 L523.6,1708.94 L525.54,1707.83 L527.48,1706.7 L529.42,1705.55 L531.36,1704.39 L533.3,1703.21 L535.24,1702.02 L537.18,1700.81 L539.12,1699.58 L541.06,1698.34 L543,1697.09 L544.94,1695.81 L546.88,1694.52 L548.82,1693.22 L550.76,1691.9 L552.69,1690.56 L554.63,1689.2 L556.57,1687.83 L558.51,1686.44 L560.45,1685.03 L562.39,1683.61 L564.33,1682.17 L566.27,1680.71 L568.21,1679.24 L570.15,1677.75 L572.09,1676.24 L574.03,1674.71 L575.97,1673.17 L577.91,1671.61 L579.85,1670.03 L581.79,1668.43 L583.73,1666.82 L585.67,1665.18 L587.61,1663.54 L589.55,1661.87 L591.49,1660.18 L593.43,1658.48 L595.37,1656.76 L597.31,1655.03 L599.25,1653.27 L601.19,1651.5 L603.12,1649.71 L605.06,1647.9 L607,1646.08 L608.94,1644.24 L610.88,1642.38 L612.82,1640.51 L614.76,1638.62 L616.7,1636.71 L618.64,1634.78 L620.58,1632.84 L622.52,1630.89 L624.46,1628.91 L626.4,1626.93 L628.34,1624.92 L630.28,1622.9 L632.22,1620.87 L634.16,1618.82 L636.1,1616.75 L638.04,1614.67 L639.98,1612.58 L641.92,1610.48 L643.86,1608.36 L645.8,1606.22 L647.74,1604.08 L649.68,1601.92 L651.62,1599.75 L653.56,1597.56 L655.49,1595.37 L657.43,1593.16 L659.37,1590.95 L661.31,1588.72 L663.25,1586.49 L665.19,1584.24 L667.13,1581.99 L669.07,1579.73 L671.01,1577.46 L672.95,1575.18 L674.89,1572.9 L676.83,1570.61 L678.77,1568.31 L680.71,1566.01 L682.65,1563.71 L684.59,1561.4 L686.53,1559.09 L688.47,1556.78 L690.41,1554.46 L692.35,1552.14 L694.29,1549.83 L696.23,1547.51 L698.17,1545.2 L700.11,1542.88 L702.05,1540.57 L703.99,1538.26 L705.92,1535.96 L707.86,1533.66 L709.8,1531.36 L711.74,1529.07 L713.68,1526.79 L715.62,1524.52 L717.56,1522.25 L719.5,1520 L721.44,1517.75 L723.38,1515.51 L725.32,1513.29 L727.26,1511.08 L729.2,1508.88 L731.14,1506.7 L733.08,1504.53 L735.02,1502.38 L736.96,1500.24 L738.9,1498.12 L740.84,1496.02 L742.78,1493.94 L744.72,1491.88 L746.66,1489.84 L748.6,1487.82 L750.54,1485.82 L752.48,1483.85 L754.42,1481.9 L756.36,1479.97 L758.29,1478.07 L760.23,1476.19 L762.17,1474.34 L764.11,1472.51 L766.05,1470.72 L767.99,1468.95 L769.93,1467.21 L771.87,1465.5 L773.81,1463.82 L775.75,1462.17 L777.69,1460.54 L779.63,1458.96 L781.57,1457.4 L783.51,1455.87 L785.45,1454.38 L787.39,1452.92 L789.33,1451.49 L791.27,1450.09 L793.21,1448.73 L795.15,1447.4 L797.09,1446.1 L799.03,1444.84 L800.97,1443.61 L802.91,1442.42 L804.85,1441.26 L806.79,1440.13 L808.73,1439.04 L810.66,1437.98 L812.6,1436.95 L814.54,1435.96 L816.48,1434.99 L818.42,1434.07 L820.36,1433.17 L822.3,1432.3 L824.24,1431.47 L826.18,1430.67 L828.12,1429.9 L830.06,1429.16 L832,1428.45 L833.94,1427.77 L835.88,1427.12 L837.82,1426.49 L839.76,1425.9 L841.7,1425.33 L843.64,1424.78 L845.58,1424.27 L847.52,1423.78 L849.46,1423.31 L851.4,1422.86 L853.34,1422.44 L855.28,1422.05 L857.22,1421.67 L859.16,1421.31 L861.09,1420.98 L863.03,1420.66 L864.97,1420.37 L866.91,1420.09 L868.85,1419.83 L870.79,1419.58 L872.73,1419.35 L874.67,1419.14 L876.61,1418.94 L878.55,1418.75 L880.49,1418.58 L882.43,1418.42 L884.37,1418.27 L886.31,1418.13" stroke="#ff0000" stroke-width="6.1"/>
<path d="M110.08,1820.39 L112.4,1818.5 L114.34,1816.93 L116.28,1815.39 L118.22,1813.9 L120.16,1812.45 L122.1,1811.04 L124.04,1809.66 L125.98,1808.33 L127.92,1807.04 L129.86,1805.79 L131.8,1804.57 L133.74,1803.4 L135.68,1802.26 L137.62,1801.17 L139.55,1800.11 L141.49,1799.08 L143.43,1798.1 L145.37,1797.15 L147.31,1796.23 L149.25,1795.36 L151.19,1794.51 L153.13,1793.7 L155.07,1792.93 L157.01,1792.18 L158.95,1791.47 L160.89,1790.79 L162.83,1790.13 L164.77,1789.51 L166.71,1788.92 L168.65,1788.35 L170.59,1787.81 L172.53,1787.3 L174.47,1786.81 L176.41,1786.34 L178.35,1785.9 L180.29,1785.48 L182.23,1785.08 L184.17,1784.7 L186.11,1784.34 L188.05,1784 L189.98,1783.68 L191.92,1783.38 L193.86,1783.09 L195.8,1782.81 L197.74,1782.55 L199.68,1782.31 L201.62,1782.07 L203.56,1781.85 L205.5,1781.64 L207.44,1781.44 L209.38,1781.25 L211.32,1781.07 L213.26,1780.89 L215.2,1780.73 L217.14,1780.57 L219.08,1780.42 L221.02,1780.26 L222.96,1780.1 L224.9,1779.95 L226.84,1779.8 L228.78,1779.65 L230.72,1779.51 L232.66,1779.37 L234.6,1779.24 L236.54,1779.1 L238.48,1778.97 L240.42,1778.84 L242.35,1778.71 L244.29,1778.58 L246.23,1778.45 L248.17,1778.32 L250.11,1778.19 L252.05,1778.06 L253.99,1777.93 L255.93,1777.8 L257.87,1777.67 L259.81,1777.53 L261.75,1777.4 L263.69,1777.26 L265.63,1777.13 L267.57,1776.99 L269.51,1776.85 L271.45,1776.71 L273.39,1776.56 L275.33,1776.42 L277.27,1776.27 L279.21,1776.12 L281.15,1775.96 L283.09,1775.81 L285.03,1775.65 L286.97,1775.49 L288.91,1775.33 L290.85,1775.16 L292.79,1774.99 L294.72,1774.82 L296.66,1774.65 L298.6,1774.47 L300.54,1774.29 L302.48,1774.11 L304.42,1773.92 L306.36,1773.73 L308.3,1773.54 L310.24,1773.34 L312.18,1773.14 L314.12,1772.94 L316.06,1772.74 L318,1772.53 L319.94,1772.31 L321.88,1772.1 L323.82,1771.88 L325.76,1771.65 L327.7,1771.43 L329.64,1771.19 L331.58,1770.96 L333.52,1770.72 L335.46,1770.48 L337.4,1770.23 L339.34,1769.98 L341.28,1769.73 L343.22,1769.49 L345.15,1769.24 L347.09,1768.99 L349.03,1768.73 L350.97,1768.47 L352.91,1768.2 L354.85,1767.93 L356.79,1767.66 L358.73,1767.38 L360.67,1767.09 L362.61,1766.8 L364.55,1766.51 L366.49,1766.21 L368.43,1765.9 L370.37,1765.59 L372.31,1765.27 L374.25,1764.95 L376.19,1764.62 L378.13,1764.29 L380.07,1763.95 L382.01,1763.6 L383.95,1763.25 L385.89,1762.9 L387.83,1762.53 L389.77,1762.16 L391.71,1761.79 L393.65,1761.4 L395.59,1761.02 L397.52,1760.62 L399.46,1760.22 L401.4,1759.81 L403.34,1759.39 L405.28,1758.97 L407.22,1758.54 L409.16,1758.1 L411.1,1757.66 L413.04,1757.21 L414.98,1756.75 L416.92,1756.28 L418.86,1755.81 L420.8,1755.32 L422.74,1754.83 L424.68,1754.33 L426.62,1753.83 L428.56,1753.31 L430.5,1752.79 L432.44,1752.26 L434.38,1751.71 L436.32,1751.16 L438.26,1750.61 L440.2,1750.04 L442.14,1749.46 L444.08,1748.87 L446.02,1748.28 L447.95,1747.67 L449.89,1747.06 L451.83,1746.43 L453.77,1745.8 L455.71,1745.15 L457.65,1744.47 L459.59,1743.79 L461.53,1743.1 L463.47,1742.39 L465.41,1741.68 L467.35,1740.95 L469.29,1740.21 L471.23,1739.46 L473.17,1738.71 L475.11,1737.93 L477.05,1737.15 L478.99,1736.36 L480.93,1735.55 L482.87,1734.73 L484.81,1733.9 L486.75,1733.06 L488.69,1732.21 L490.63,1731.34 L492.57,1730.46 L494.51,1729.57 L496.45,1728.66 L498.39,1727.74 L500.32,1726.81 L502.26,1725.86 L504.2,1724.91 L506.14,1723.93 L508.08,1722.95 L510.02,1721.95 L511.96,1720.93 L513.9,1719.9 L515.84,1718.86 L517.78,1717.8 L519.72,1716.73 L521.66,1715.65 L523.6,1714.54 L525.54,1713.43 L527.48,1712.3 L529.42,1711.15 L531.36,1709.99 L533.3,1708.81 L535.24,1707.62 L537.18,1706.41 L539.12,1705.18 L541.06,1703.94 L543,1702.69 L544.94,1701.41 L546.88,1700.12 L548.82,1698.82 L550.76,1697.5 L552.69,1696.16 L554.63,1694.8 L556.57,1693.43 L558.51,1692.04 L560.45,1690.63 L562.39,1689.21 L564.33,1687.77 L566.27,1686.31 L568.21,1684.84 L570.15,1683.35 L572.09,1681.84 L574.03,1680.31 L575.97,1678.77 L577.91,1677.21 L579.85,1675.63 L581.79,1674.03 L583.73,1672.42 L585.67,1670.78 L587.61,1669.14 L589.55,1667.47 L591.49,1665.78 L593.43,1664.06 L595.37,1662.33 L597.31,1660.58 L599.25,1658.82 L601.19,1657.04 L603.12,1655.24 L605.06,1653.42 L607,1651.58 L608.94,1649.73 L610.88,1647.86 L612.82,1645.98 L614.76,1644.08 L616.7,1642.16 L618.64,1640.22 L620.58,1638.27 L622.52,1636.3 L624.46,1634.32 L626.4,1632.32 L628.34,1630.3 L630.28,1628.27 L632.22,1626.23 L634.16,1624.17 L636.1,1622.09 L638.04,1620 L639.98,1617.9 L641.92,1615.78 L643.86,1613.65 L645.8,1611.5 L647.74,1609.35 L649.68,1607.18 L651.62,1604.99 L653.56,1602.8 L655.49,1600.59 L657.43,1598.38 L659.37,1596.15 L661.31,1593.91 L663.25,1591.67 L665.19,1589.41 L667.13,1587.15 L669.07,1584.87 L671.01,1582.59 L672.95,1580.31 L674.89,1578.01 L676.83,1575.71 L678.77,1573.41 L680.71,1571.09 L682.65,1568.78 L684.59,1566.46 L686.53,1564.14 L688.47,1561.81 L690.41,1559.49 L692.35,1557.16 L694.29,1554.83 L696.23,1552.48 L698.17,1550.1 L700.11,1547.73 L702.05,1545.36 L703.99,1543 L705.92,1540.64 L707.86,1538.28 L709.8,1535.93 L711.74,1533.59 L713.68,1531.25 L715.62,1528.92 L717.56,1526.59 L719.5,1524.28 L721.44,1521.98 L723.38,1519.69 L725.32,1517.41 L727.26,1515.14 L729.2,1512.89 L731.14,1510.65 L733.08,1508.42 L735.02,1506.21 L736.96,1504.02 L738.9,1501.85 L740.84,1499.69 L742.78,1497.55 L744.72,1495.43 L746.66,1493.34 L748.6,1491.26 L750.54,1489.21 L752.48,1487.17 L754.42,1485.17 L756.36,1483.18 L758.29,1481.22 L760.23,1479.29 L762.17,1477.38 L764.11,1475.5 L766.05,1473.65 L767.99,1471.82 L769.93,1470.03 L771.87,1468.26 L773.81,1466.52 L775.75,1464.8 L777.69,1463.11 L779.63,1461.45 L781.57,1459.82 L783.51,1458.23 L785.45,1456.66 L787.39,1455.13 L789.33,1453.63 L791.27,1452.16 L793.21,1450.73 L795.15,1449.33 L797.09,1447.96 L799.03,1446.63 L800.97,1445.33 L802.91,1444.07 L804.85,1442.84 L806.79,1441.64 L808.73,1440.47 L810.66,1439.34 L812.6,1438.25 L814.54,1437.18 L816.48,1436.15 L818.42,1435.15 L820.36,1434.18 L822.3,1433.25 L824.24,1432.35 L826.18,1431.47 L828.12,1430.63 L830.06,1429.82 L832,1429.04 L833.94,1428.29 L835.88,1427.57 L837.82,1426.87 L839.76,1426.2 L841.7,1425.62 L843.64,1425.06 L845.58,1424.53 L847.52,1424.03 L849.46,1423.55 L851.4,1423.09 L853.34,1422.66 L855.28,1422.25 L857.22,1421.86 L859.16,1421.49 L861.09,1421.14 L863.03,1420.81 L864.97,1420.5 L866.91,1420.21 L868.85,1419.94 L870.79,1419.68 L872.73,1419.44 L874.67,1419.21 L876.61,1419 L878.55,1418.8 L880.49,1418.61 L882.43,1418.44 L884.37,1418.28 L886.31,1418.13" stroke="#0000ff" stroke-width="5.8" stroke-dasharray="10.2 9.8"/>
</g>
<path d="M100.6,1838.4 v-5.9 M100.6,1348.3 v5.9 M112.4,1838.4 v-8.3 M112.4,1348.3 v8.3 M190.06,1838.4 v-5.9 M190.06,1348.3 v5.9 M235.48,1838.4 v-5.9 M235.48,1348.3 v5.9 M267.71,1838.4 v-5.9 M267.71,1348.3 v5.9 M292.71,1838.4 v-5.9 M292.71,1348.3 v5.9 M313.14,1838.4 v-5.9 M313.14,1348.3 v5.9 M330.41,1838.4 v-5.9 M330.41,1348.3 v5.9 M345.37,1838.4 v-5.9 M345.37,1348.3 v5.9 M358.57,1838.4 v-5.9 M358.57,1348.3 v5.9 M370.37,1838.4 v-8.3 M370.37,1348.3 v8.3 M448.03,1838.4 v-5.9 M448.03,1348.3 v5.9 M493.45,1838.4 v-5.9 M493.45,1348.3 v5.9 M525.68,1838.4 v-5.9 M525.68,1348.3 v5.9 M550.68,1838.4 v-5.9 M550.68,1348.3 v5.9 M571.11,1838.4 v-5.9 M571.11,1348.3 v5.9 M588.38,1838.4 v-5.9 M588.38,1348.3 v5.9 M603.34,1838.4 v-5.9 M603.34,1348.3 v5.9 M616.54,1838.4 v-5.9 M616.54,1348.3 v5.9 M628.34,1838.4 v-8.3 M628.34,1348.3 v8.3 M706,1838.4 v-5.9 M706,1348.3 v5.9 M751.42,1838.4 v-5.9 M751.42,1348.3 v5.9 M783.65,1838.4 v-5.9 M783.65,1348.3 v5.9 M808.65,1838.4 v-5.9 M808.65,1348.3 v5.9 M829.08,1838.4 v-5.9 M829.08,1348.3 v5.9 M846.35,1838.4 v-5.9 M846.35,1348.3 v5.9 M861.31,1838.4 v-5.9 M861.31,1348.3 v5.9 M874.51,1838.4 v-5.9 M874.51,1348.3 v5.9 M94,1809.2 h9.2 M886.3,1809.2 h-9.2 M94,1665.16 h9.2 M886.3,1665.16 h-9.2 M94,1521.13 h9.2 M886.3,1521.13 h-9.2 M94,1377.1 h9.2 M886.3,1377.1 h-9.2 M94,1780.39 h5.6 M886.3,1780.39 h-5.6 M94,1751.59 h5.6 M886.3,1751.59 h-5.6 M94,1722.78 h5.6 M886.3,1722.78 h-5.6 M94,1693.97 h5.6 M886.3,1693.97 h-5.6 M94,1636.36 h5.6 M886.3,1636.36 h-5.6 M94,1607.55 h5.6 M886.3,1607.55 h-5.6 M94,1578.74 h5.6 M886.3,1578.74 h-5.6 M94,1549.94 h5.6 M886.3,1549.94 h-5.6 M94,1492.32 h5.6 M886.3,1492.32 h-5.6 M94,1463.52 h5.6 M886.3,1463.52 h-5.6 M94,1434.71 h5.6 M886.3,1434.71 h-5.6 M94,1405.9 h5.6 M886.3,1405.9 h-5.6" stroke="#606060" stroke-width="1.25" fill="none"/>
<rect x="94" y="1348.3" width="792.3" height="490.1" fill="none" stroke="#7a7a7a" stroke-width="1.6" stroke-linejoin="round"/>
<g font-size="23.6" fill="#000">
<text transform="translate(86.1,1819.7) scale(0.93,1)" text-anchor="end">1<tspan dx="0.7">.</tspan><tspan dx="0.7">5</tspan></text>
<text transform="translate(86.1,1675.66) scale(0.93,1)" text-anchor="end">2<tspan dx="0.7">.</tspan><tspan dx="0.7">0</tspan></text>
<text transform="translate(86.1,1531.63) scale(0.93,1)" text-anchor="end">2<tspan dx="0.7">.</tspan><tspan dx="0.7">5</tspan></text>
<text transform="translate(86.1,1387.6) scale(0.93,1)" text-anchor="end">3<tspan dx="0.7">.</tspan><tspan dx="0.7">0</tspan></text>
<text transform="translate(112,1870.7) scale(0.93,1)" text-anchor="middle">0<tspan dx="0.7">.</tspan><tspan dx="0.7">01</tspan></text>
<text transform="translate(369.97,1870.7) scale(0.93,1)" text-anchor="middle">0<tspan dx="0.7">.</tspan><tspan dx="0.7">10</tspan></text>
<text transform="translate(627.94,1870.7) scale(0.93,1)" text-anchor="middle">1</text>
<text transform="translate(885.91,1870.7) scale(0.93,1)" text-anchor="middle">10</text>
</g>
<text x="470.3" y="1923" font-size="35.5" font-style="italic" fill="#000">t</text>
<text transform="translate(480.3,1928.9) skewX(-7) scale(0.68,1)" font-size="48" fill="#000">/</text>
<text transform="translate(490.6,1923.7) scale(1.07,1)" font-size="32.5" font-style="italic" style="font-family:'DejaVu Serif','Liberation Serif',serif" fill="#000">τ</text>
<text transform="translate(34.2,1594) rotate(-90) scale(0.97,1)" font-size="39" text-anchor="middle" fill="#000">MSD (10<tspan font-size="26.5" dy="-13.4">3</tspan><tspan dy="13.4" dx="2"> nm</tspan><tspan font-size="26.5" dy="-13.4">2</tspan><tspan dy="13.4">)</tspan></text>
<text x="4" y="1315.6" font-size="29.8" fill="#000">(c)</text>
</svg>
</body></html>
